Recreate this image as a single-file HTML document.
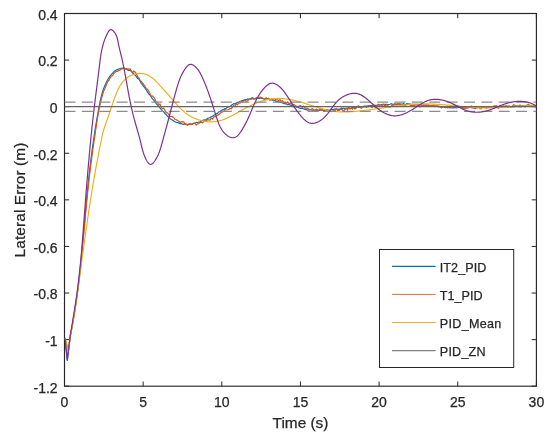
<!DOCTYPE html>
<html><head><meta charset="utf-8"><title>Lateral Error</title>
<style>html,body{margin:0;padding:0;background:#fff}svg{display:block}</style></head>
<body><svg width="550" height="440" viewBox="0 0 550 440">
<rect x="0" y="0" width="550" height="440" fill="#fff"/>
<clipPath id="c"><rect x="64.5" y="13.5" width="471.9" height="372.7"/></clipPath>
<rect x="64.5" y="13.5" width="471.9" height="372.7" fill="none" stroke="#262626" stroke-width="1.15"/>
<path d="M64.50,386.2 v-4.7 M64.50,13.5 v4.7 M143.15,386.2 v-4.7 M143.15,13.5 v4.7 M221.80,386.2 v-4.7 M221.80,13.5 v4.7 M300.45,386.2 v-4.7 M300.45,13.5 v4.7 M379.10,386.2 v-4.7 M379.10,13.5 v4.7 M457.75,386.2 v-4.7 M457.75,13.5 v4.7 M536.40,386.2 v-4.7 M536.40,13.5 v4.7 M64.5,13.50 h4.7 M536.4,13.50 h-4.7 M64.5,60.09 h4.7 M536.4,60.09 h-4.7 M64.5,106.67 h4.7 M536.4,106.67 h-4.7 M64.5,153.26 h4.7 M536.4,153.26 h-4.7 M64.5,199.85 h4.7 M536.4,199.85 h-4.7 M64.5,246.44 h4.7 M536.4,246.44 h-4.7 M64.5,293.03 h4.7 M536.4,293.03 h-4.7 M64.5,339.61 h4.7 M536.4,339.61 h-4.7 M64.5,386.20 h4.7 M536.4,386.20 h-4.7" stroke="#262626" stroke-width="1" fill="none"/>
<g clip-path="url(#c)" fill="none" stroke-linejoin="round" stroke-linecap="butt">
<path d="M65.0,338.2 L67.3,360.0 L69.8,339.4 L69.54,339.41 L69.63,338.96 L69.73,338.51 L69.82,338.06 L69.91,337.61 L70.00,337.16 L70.09,336.71 L70.18,336.26 L70.27,335.81 L70.36,335.36 L70.45,334.92 L70.54,334.47 L70.62,334.02 L70.71,333.57 L70.80,333.12 L70.89,332.67 L70.97,332.22 L71.06,331.77 L71.14,331.32 L71.23,330.87 L71.31,330.42 L71.40,329.97 L71.48,329.52 L71.57,329.07 L71.65,328.62 L71.73,328.17 L71.82,327.72 L71.90,327.28 L71.98,326.83 L72.06,326.38 L72.14,325.93 L72.22,325.48 L72.30,325.03 L72.39,324.58 L72.46,324.13 L72.54,323.68 L72.62,323.23 L72.70,322.78 L72.78,322.33 L72.86,321.88 L72.94,321.43 L73.01,320.98 L73.09,320.53 L73.17,320.08 L73.24,319.63 L73.32,319.18 L73.40,318.73 L73.47,318.28 L73.55,317.83 L73.62,317.38 L73.70,316.93 L73.77,316.48 L73.84,316.03 L73.92,315.58 L73.99,315.12 L74.06,314.67 L74.14,314.22 L74.21,313.77 L74.28,313.32 L74.35,312.87 L74.42,312.42 L74.49,311.97 L74.57,311.52 L74.64,311.07 L74.71,310.62 L74.78,310.17 L74.85,309.72 L74.91,309.27 L74.98,308.82 L75.05,308.37 L75.12,307.92 L75.19,307.47 L75.26,307.01 L75.32,306.56 L75.39,306.11 L75.46,305.66 L75.52,305.21 L75.59,304.76 L75.66,304.31 L75.72,303.86 L75.79,303.41 L75.85,302.96 L75.92,302.51 L75.98,302.05 L76.05,301.60 L76.11,301.15 L76.17,300.70 L76.24,300.25 L76.30,299.80 L76.36,299.35 L76.43,298.90 L76.49,298.45 L76.55,297.99 L76.61,297.54 L76.67,297.09 L76.74,296.64 L76.80,296.19 L76.86,295.74 L76.92,295.29 L76.98,294.84 L77.04,294.38 L77.10,293.93 L77.16,293.48 L77.22,293.03 L77.28,292.58 L77.34,292.13 L77.40,291.68 L77.45,291.22 L77.51,290.77 L77.57,290.32 L77.63,289.87 L77.69,289.42 L77.74,288.97 L77.80,288.51 L77.86,288.06 L77.91,287.61 L77.97,287.16 L78.03,286.71 L78.08,286.26 L78.14,285.80 L78.19,285.35 L78.25,284.90 L78.30,284.45 L78.36,284.00 L78.41,283.55 L78.47,283.09 L78.52,282.64 L78.58,282.19 L78.63,281.74 L78.68,281.29 L78.74,280.83 L78.79,280.38 L78.84,279.93 L78.90,279.48 L78.95,279.03 L79.00,278.57 L79.05,278.12 L79.11,277.67 L79.16,277.22 L79.21,276.77 L79.26,276.31 L79.31,275.86 L79.36,275.41 L79.42,274.96 L79.47,274.50 L79.52,274.05 L79.57,273.60 L79.62,273.15 L79.67,272.70 L79.72,272.24 L79.77,271.79 L79.82,271.34 L79.87,270.89 L79.92,270.43 L79.96,269.98 L80.01,269.53 L80.06,269.08 L80.11,268.62 L80.16,268.17 L80.21,267.72 L80.26,267.27 L80.30,266.81 L80.35,266.36 L80.40,265.91 L80.45,265.46 L80.50,265.00 L80.54,264.55 L80.59,264.10 L80.64,263.65 L80.68,263.19 L80.73,262.74 L80.78,262.29 L80.82,261.84 L80.87,261.38 L80.92,260.93 L80.96,260.48 L81.01,260.03 L81.05,259.57 L81.10,259.12 L81.15,258.67 L81.19,258.21 L81.24,257.76 L81.28,257.31 L81.33,256.86 L81.37,256.40 L81.42,255.95 L81.46,255.50 L81.51,255.04 L81.55,254.59 L81.59,254.14 L81.64,253.69 L81.68,253.23 L81.73,252.78 L81.77,252.33 L81.81,251.87 L81.86,251.42 L81.90,250.97 L81.95,250.52 L81.99,250.06 L82.03,249.61 L82.08,249.16 L82.12,248.70 L82.16,248.25 L82.21,247.80 L82.25,247.34 L82.29,246.89 L82.33,246.44 L82.38,245.98 L82.42,245.53 L82.46,245.08 L82.51,244.63 L82.55,244.17 L82.59,243.72 L82.63,243.27 L82.67,242.81 L82.72,242.36 L82.76,241.91 L82.80,241.45 L82.84,241.00 L82.88,240.55 L82.93,240.09 L82.97,239.64 L83.01,239.19 L83.05,238.73 L83.09,238.28 L83.13,237.83 L83.18,237.37 L83.22,236.92 L83.26,236.47 L83.30,236.01 L83.34,235.56 L83.38,235.11 L83.42,234.65 L83.47,234.20 L83.51,233.75 L83.55,233.29 L83.59,232.84 L83.63,232.39 L83.67,231.93 L83.71,231.48 L83.75,231.03 L83.79,230.57 L83.84,230.12 L83.88,229.66 L83.92,229.21 L83.96,228.76 L84.00,228.30 L84.04,227.85 L84.08,227.40 L84.12,226.94 L84.16,226.49 L84.20,226.04 L84.24,225.58 L84.28,225.13 L84.33,224.68 L84.37,224.22 L84.41,223.77 L84.45,223.31 L84.49,222.86 L84.53,222.41 L84.57,221.95 L84.61,221.50 L84.65,221.05 L84.69,220.59 L84.73,220.14 L84.77,219.69 L84.81,219.23 L84.86,218.78 L84.90,218.32 L84.94,217.87 L84.98,217.42 L85.02,216.96 L85.06,216.51 L85.10,216.06 L85.14,215.60 L85.18,215.15 L85.22,214.69 L85.26,214.24 L85.31,213.79 L85.35,213.33 L85.39,212.88 L85.43,212.43 L85.47,211.97 L85.51,211.52 L85.55,211.06 L85.59,210.61 L85.64,210.16 L85.68,209.70 L85.72,209.25 L85.76,208.79 L85.80,208.34 L85.84,207.89 L85.88,207.43 L85.93,206.98 L85.97,206.53 L86.01,206.07 L86.05,205.62 L86.09,205.16 L86.14,204.71 L86.18,204.26 L86.22,203.80 L86.26,203.35 L86.31,202.89 L86.35,202.44 L86.39,201.99 L86.43,201.53 L86.47,201.08 L86.52,200.63 L86.56,200.17 L86.60,199.72 L86.65,199.26 L86.69,198.81 L86.73,198.36 L86.78,197.90 L86.82,197.45 L86.86,196.99 L86.91,196.54 L86.95,196.09 L86.99,195.63 L87.04,195.18 L87.08,194.72 L87.12,194.27 L87.17,193.82 L87.21,193.36 L87.26,192.91 L87.30,192.45 L87.35,192.00 L87.39,191.55 L87.43,191.09 L87.48,190.64 L87.52,190.18 L87.57,189.73 L87.61,189.28 L87.66,188.82 L87.70,188.37 L87.75,187.91 L87.80,187.46 L87.84,187.01 L87.89,186.55 L87.93,186.10 L87.98,185.64 L88.03,185.19 L88.07,184.74 L88.12,184.28 L88.16,183.83 L88.21,183.37 L88.26,182.92 L88.31,182.47 L88.35,182.01 L88.40,181.56 L88.45,181.10 L88.50,180.65 L88.54,180.20 L88.59,179.74 L88.64,179.29 L88.69,178.83 L88.74,178.38 L88.78,177.93 L88.83,177.47 L88.88,177.02 L88.93,176.56 L88.98,176.11 L89.03,175.66 L89.08,175.20 L89.13,174.75 L89.18,174.29 L89.23,173.84 L89.28,173.39 L89.33,172.93 L89.38,172.48 L89.43,172.02 L89.48,171.57 L89.53,171.12 L89.58,170.66 L89.63,170.21 L89.69,169.75 L89.74,169.30 L89.79,168.85 L89.84,168.39 L89.89,167.94 L89.95,167.48 L90.00,167.03 L90.05,166.58 L90.10,166.12 L90.16,165.67 L90.21,165.21 L90.27,164.76 L90.32,164.31 L90.37,163.85 L90.43,163.40 L90.48,162.94 L90.54,162.49 L90.59,162.04 L90.65,161.58 L90.70,161.13 L90.76,160.67 L90.81,160.22 L90.87,159.77 L90.93,159.31 L90.98,158.86 L91.04,158.40 L91.10,157.95 L91.15,157.50 L91.21,157.04 L91.27,156.59 L91.33,156.13 L91.38,155.68 L91.44,155.23 L91.50,154.77 L91.56,154.32 L91.62,153.87 L91.68,153.41 L91.74,152.96 L91.80,152.50 L91.86,152.05 L91.92,151.60 L91.98,151.14 L92.04,150.69 L92.10,150.23 L92.16,149.78 L92.22,149.33 L92.28,148.87 L92.35,148.42 L92.41,147.97 L92.47,147.51 L92.53,147.06 L92.60,146.60 L92.66,146.15 L92.72,145.70 L92.79,145.24 L92.85,144.79 L92.91,144.34 L92.98,143.88 L93.04,143.43 L93.11,142.98 L93.17,142.52 L93.24,142.07 L93.30,141.62 L93.37,141.16 L93.43,140.71 L93.50,140.26 L93.57,139.81 L93.63,139.35 L93.70,138.90 L93.77,138.45 L93.83,138.00 L93.90,137.54 L93.97,137.09 L94.04,136.64 L94.11,136.19 L94.18,135.74 L94.24,135.28 L94.31,134.83 L94.38,134.38 L94.45,133.93 L94.52,133.48 L94.59,133.03 L94.66,132.58 L94.73,132.13 L94.80,131.67 L94.87,131.22 L94.94,130.77 L95.01,130.32 L95.09,129.87 L95.16,129.42 L95.23,128.97 L95.30,128.52 L95.37,128.07 L95.45,127.62 L95.52,127.18 L95.59,126.73 L95.67,126.28 L95.74,125.83 L95.81,125.38 L95.89,124.93 L95.96,124.48 L96.03,124.04 L96.11,123.59 L96.18,123.14 L96.26,122.69 L96.33,122.25 L96.41,121.80 L96.48,121.35 L96.56,120.90 L96.64,120.46 L96.71,120.01 L96.79,119.57 L96.87,119.12 L96.94,118.67 L97.02,118.23 L97.10,117.78 L97.17,117.34 L97.25,116.90 L97.33,116.45 L97.41,116.01 L97.49,115.56 L97.56,115.12 L97.64,114.68 L97.72,114.23 L97.80,113.79 L97.88,113.35 L97.96,112.90 L98.04,112.46 L98.12,112.02 L98.20,111.58 L98.28,111.14 L98.36,110.70 L98.44,110.26 L98.52,109.81 L98.60,109.37 L98.68,108.93 L98.76,108.50 L98.85,108.06 L98.93,107.62 L99.01,107.18 L99.09,106.74 L99.17,106.30 L99.26,105.86 L99.34,105.43 L99.42,104.99 L99.51,104.55 L99.59,104.11 L99.68,103.68 L99.76,103.24 L99.85,102.80 L99.94,102.37 L100.03,101.93 L101.28,96.42 L102.53,91.94 L103.78,88.14 L105.03,85.20 L106.28,82.45 L107.53,79.93 L108.78,78.02 L110.03,76.16 L111.28,74.55 L112.53,73.11 L113.78,72.07 L115.03,70.69 L116.28,70.03 L117.53,69.27 L118.78,69.08 L120.03,68.55 L121.28,68.25 L122.53,68.06 L123.78,68.32 L125.03,68.65 L126.28,68.95 L127.53,69.93 L128.78,70.47 L130.03,70.31 L131.28,71.20 L132.53,72.68 L133.78,73.69 L135.03,75.08 L136.28,76.41 L137.53,78.39 L138.78,79.02 L140.03,80.91 L141.28,83.38 L142.53,84.81 L143.78,86.70 L145.03,88.23 L146.28,89.76 L147.53,92.12 L148.78,93.86 L150.03,95.18 L151.28,97.01 L152.53,98.83 L153.78,100.16 L155.03,101.96 L156.28,103.55 L157.53,105.02 L158.78,106.33 L160.03,108.11 L161.28,109.62 L162.53,110.85 L163.78,111.90 L165.03,113.74 L166.28,114.70 L167.53,116.39 L168.78,117.00 L170.03,118.71 L171.28,119.43 L172.53,119.97 L173.78,121.03 L175.03,121.82 L176.28,122.45 L177.53,122.55 L178.78,122.91 L180.03,123.62 L181.28,123.67 L182.53,124.07 L183.78,124.36 L185.03,123.71 L186.28,124.31 L187.53,124.58 L188.78,124.05 L190.03,123.79 L191.28,124.11 L192.53,123.77 L193.78,123.73 L195.03,123.09 L196.28,122.45 L197.53,122.52 L198.78,122.04 L200.03,122.00 L201.28,121.38 L202.53,120.35 L203.78,119.97 L205.03,120.05 L206.28,119.41 L207.53,118.41 L208.78,117.98 L210.03,117.46 L211.28,116.79 L212.53,116.22 L213.78,115.33 L215.03,114.51 L216.28,113.73 L217.53,113.39 L218.78,111.74 L220.03,111.57 L221.28,110.89 L222.53,109.72 L223.78,109.53 L225.03,108.52 L226.28,108.27 L227.53,107.29 L228.78,106.85 L230.03,106.35 L231.28,105.46 L232.53,104.45 L233.78,103.66 L235.03,104.06 L236.28,102.94 L237.53,102.23 L238.78,101.97 L240.03,101.39 L241.28,101.25 L242.53,100.59 L243.78,100.19 L245.03,99.61 L246.28,99.65 L247.53,98.91 L248.78,99.17 L250.03,99.21 L251.28,98.12 L252.53,97.84 L253.78,98.53 L255.03,98.88 L256.28,97.95 L257.53,97.87 L258.78,98.46 L260.03,98.09 L261.28,98.28 L262.53,98.44 L263.78,98.85 L265.03,98.73 L266.28,99.12 L267.53,99.19 L268.78,99.22 L270.03,99.62 L271.28,99.69 L272.53,100.26 L273.78,100.22 L275.03,100.54 L276.28,101.62 L277.53,101.50 L278.78,101.85 L280.03,102.37 L281.28,102.46 L282.53,102.88 L283.78,103.45 L285.03,103.79 L286.28,103.74 L287.53,104.72 L288.78,104.68 L290.03,104.92 L291.28,105.35 L292.53,105.87 L293.78,106.85 L295.03,106.37 L296.28,107.12 L297.53,106.81 L298.78,107.73 L300.03,108.32 L301.28,108.27 L302.53,108.44 L303.78,108.96 L305.03,109.34 L306.28,109.55 L307.53,110.14 L308.78,109.79 L310.03,109.70 L311.28,109.96 L312.53,110.08 L313.78,110.22 L315.03,110.24 L316.28,110.34 L317.53,109.81 L318.78,110.57 L320.03,110.14 L321.28,109.94 L322.53,110.45 L323.78,110.61 L325.03,110.30 L326.28,110.13 L327.53,109.72 L328.78,110.51 L330.03,110.08 L331.28,109.38 L332.53,109.38 L333.78,109.53 L335.03,108.92 L336.28,109.32 L337.53,109.02 L338.78,109.40 L340.03,109.20 L341.28,108.18 L342.53,108.67 L343.78,108.04 L345.03,108.73 L346.28,108.32 L347.53,108.30 L348.78,107.68 L350.03,108.42 L351.28,108.33 L352.53,107.28 L353.78,107.58 L355.03,107.13 L356.28,107.19 L357.53,106.68 L358.78,107.49 L360.03,106.50 L361.28,106.57 L362.53,106.68 L363.78,106.21 L365.03,106.20 L366.28,105.98 L367.53,105.99 L368.78,105.55 L370.03,105.65 L371.28,105.60 L372.53,105.45 L373.78,105.46 L375.03,105.24 L376.28,105.45 L377.53,105.03 L378.78,104.98 L380.03,104.73 L381.28,104.68 L382.53,104.37 L383.78,104.82 L385.03,104.25 L386.28,104.29 L387.53,104.56 L388.78,104.51 L390.03,104.21 L391.28,103.67 L392.53,104.35 L393.78,104.26 L395.03,103.73 L396.28,104.35 L397.53,103.89 L398.78,103.74 L400.03,104.10 L401.28,104.02 L402.53,104.13 L403.78,103.60 L405.03,104.65 L406.28,103.95 L407.53,103.70 L408.78,104.39 L410.03,104.15 L411.28,104.41 L412.53,104.28 L413.78,104.44 L415.03,104.61 L416.28,104.40 L417.53,104.93 L418.78,104.69 L420.03,104.67 L421.28,105.07 L422.53,105.30 L423.78,105.22 L425.03,105.15 L426.28,105.72 L427.53,105.13 L428.78,105.48 L430.03,105.93 L431.28,105.64 L432.53,106.19 L433.78,106.29 L435.03,106.70 L436.28,106.28 L437.53,106.48 L438.78,106.89 L440.03,106.30 L441.28,107.61 L442.53,106.90 L443.78,106.98 L445.03,107.55 L446.28,107.36 L447.53,106.91 L448.78,107.70 L450.03,107.82 L451.28,107.47 L452.53,107.56 L453.78,107.82 L455.03,107.42 L456.28,107.83 L457.53,107.77 L458.78,107.50 L460.03,107.28 L461.28,107.61 L462.53,107.40 L463.78,107.94 L465.03,107.65 L466.28,107.81 L467.53,107.58 L468.78,107.58 L470.03,107.23 L471.28,107.62 L472.53,107.91 L473.78,107.24 L475.03,107.11 L476.28,107.20 L477.53,107.06 L478.78,106.95 L480.03,107.17 L481.28,107.00 L482.53,107.48 L483.78,107.02 L485.03,107.09 L486.28,107.25 L487.53,106.85 L488.78,107.34 L490.03,106.70 L491.28,106.62 L492.53,106.74 L493.78,106.79 L495.03,106.39 L496.28,106.78 L497.53,106.27 L498.78,107.17 L500.03,106.72 L501.28,106.53 L502.53,106.44 L503.78,106.58 L505.03,106.61 L506.28,106.35 L507.53,106.37 L508.78,106.57 L510.03,106.46 L511.28,106.88 L512.53,106.92 L513.78,106.56 L515.03,106.67 L516.28,106.11 L517.53,106.68 L518.78,106.45 L520.03,106.58 L521.28,106.88 L522.53,105.77 L523.78,106.42 L525.03,105.97 L526.28,106.44 L527.53,105.83 L528.78,106.03 L530.03,106.19 L531.28,106.27 L532.53,106.05 L533.78,105.74 L535.03,105.75 L536.28,106.12" stroke="#0072BD" stroke-width="1.2"/>
<path d="M65.0,338.0 L68.4,351 L69.9,339.4 L69.49,339.40 L69.59,338.95 L69.68,338.50 L69.78,338.06 L69.88,337.61 L69.97,337.16 L70.07,336.72 L70.16,336.27 L70.26,335.82 L70.35,335.37 L70.44,334.93 L70.53,334.48 L70.63,334.03 L70.72,333.58 L70.81,333.14 L70.90,332.69 L70.99,332.24 L71.08,331.79 L71.17,331.35 L71.26,330.90 L71.35,330.45 L71.44,330.00 L71.53,329.56 L71.61,329.11 L71.70,328.66 L71.79,328.21 L71.87,327.77 L71.96,327.32 L72.05,326.87 L72.13,326.42 L72.21,325.97 L72.30,325.53 L72.38,325.08 L72.47,324.63 L72.55,324.18 L72.63,323.73 L72.72,323.29 L72.80,322.84 L72.88,322.39 L72.96,321.94 L73.04,321.49 L73.12,321.05 L73.20,320.60 L73.28,320.15 L73.36,319.70 L73.44,319.25 L73.52,318.80 L73.60,318.36 L73.67,317.91 L73.75,317.46 L73.83,317.01 L73.90,316.56 L73.98,316.11 L74.06,315.67 L74.13,315.22 L74.21,314.77 L74.28,314.32 L74.36,313.87 L74.43,313.42 L74.51,312.97 L74.58,312.53 L74.65,312.08 L74.73,311.63 L74.80,311.18 L74.87,310.73 L74.94,310.28 L75.01,309.83 L75.08,309.38 L75.16,308.94 L75.23,308.49 L75.30,308.04 L75.37,307.59 L75.44,307.14 L75.50,306.69 L75.57,306.24 L75.64,305.79 L75.71,305.34 L75.78,304.89 L75.85,304.45 L75.91,304.00 L75.98,303.55 L76.05,303.10 L76.11,302.65 L76.18,302.20 L76.25,301.75 L76.31,301.30 L76.38,300.85 L76.44,300.40 L76.51,299.95 L76.57,299.50 L76.63,299.05 L76.70,298.61 L76.76,298.16 L76.82,297.71 L76.89,297.26 L76.95,296.81 L77.01,296.36 L77.07,295.91 L77.14,295.46 L77.20,295.01 L77.26,294.56 L77.32,294.11 L77.38,293.66 L77.44,293.21 L77.50,292.76 L77.56,292.31 L77.62,291.86 L77.68,291.41 L77.74,290.96 L77.80,290.51 L77.86,290.06 L77.91,289.61 L77.97,289.16 L78.03,288.71 L78.09,288.26 L78.14,287.81 L78.20,287.36 L78.26,286.91 L78.32,286.46 L78.37,286.01 L78.43,285.56 L78.48,285.11 L78.54,284.66 L78.59,284.21 L78.65,283.76 L78.71,283.31 L78.76,282.86 L78.81,282.41 L78.87,281.96 L78.92,281.51 L78.98,281.06 L79.03,280.61 L79.08,280.16 L79.14,279.71 L79.19,279.26 L79.24,278.81 L79.30,278.36 L79.35,277.91 L79.40,277.46 L79.45,277.01 L79.50,276.56 L79.56,276.11 L79.61,275.66 L79.66,275.20 L79.71,274.75 L79.76,274.30 L79.81,273.85 L79.86,273.40 L79.91,272.95 L79.96,272.50 L80.01,272.05 L80.06,271.60 L80.11,271.15 L80.16,270.70 L80.21,270.25 L80.26,269.80 L80.31,269.35 L80.35,268.90 L80.40,268.44 L80.45,267.99 L80.50,267.54 L80.55,267.09 L80.60,266.64 L80.64,266.19 L80.69,265.74 L80.74,265.29 L80.79,264.84 L80.83,264.39 L80.88,263.93 L80.93,263.48 L80.97,263.03 L81.02,262.58 L81.07,262.13 L81.11,261.68 L81.16,261.23 L81.20,260.78 L81.25,260.33 L81.30,259.87 L81.34,259.42 L81.39,258.97 L81.43,258.52 L81.48,258.07 L81.52,257.62 L81.57,257.17 L81.61,256.72 L81.66,256.26 L81.70,255.81 L81.75,255.36 L81.79,254.91 L81.83,254.46 L81.88,254.01 L81.92,253.56 L81.97,253.10 L82.01,252.65 L82.05,252.20 L82.10,251.75 L82.14,251.30 L82.18,250.85 L82.23,250.40 L82.27,249.94 L82.31,249.49 L82.36,249.04 L82.40,248.59 L82.44,248.14 L82.49,247.69 L82.53,247.23 L82.57,246.78 L82.61,246.33 L82.66,245.88 L82.70,245.43 L82.74,244.98 L82.78,244.52 L82.82,244.07 L82.87,243.62 L82.91,243.17 L82.95,242.72 L82.99,242.26 L83.03,241.81 L83.08,241.36 L83.12,240.91 L83.16,240.46 L83.20,240.01 L83.24,239.55 L83.29,239.10 L83.33,238.65 L83.37,238.20 L83.41,237.75 L83.45,237.29 L83.49,236.84 L83.53,236.39 L83.57,235.94 L83.62,235.49 L83.66,235.03 L83.70,234.58 L83.74,234.13 L83.78,233.68 L83.82,233.22 L83.86,232.77 L83.90,232.32 L83.95,231.87 L83.99,231.42 L84.03,230.96 L84.07,230.51 L84.11,230.06 L84.15,229.61 L84.19,229.16 L84.23,228.70 L84.27,228.25 L84.31,227.80 L84.36,227.35 L84.40,226.89 L84.44,226.44 L84.48,225.99 L84.52,225.54 L84.56,225.08 L84.60,224.63 L84.64,224.18 L84.68,223.73 L84.72,223.27 L84.77,222.82 L84.81,222.37 L84.85,221.92 L84.89,221.46 L84.93,221.01 L84.97,220.56 L85.01,220.11 L85.05,219.65 L85.09,219.20 L85.14,218.75 L85.18,218.30 L85.22,217.84 L85.26,217.39 L85.30,216.94 L85.34,216.49 L85.38,216.03 L85.43,215.58 L85.47,215.13 L85.51,214.68 L85.55,214.22 L85.59,213.77 L85.63,213.32 L85.68,212.87 L85.72,212.41 L85.76,211.96 L85.80,211.51 L85.85,211.05 L85.89,210.60 L85.93,210.15 L85.97,209.70 L86.01,209.24 L86.06,208.79 L86.10,208.34 L86.14,207.89 L86.19,207.43 L86.23,206.98 L86.27,206.53 L86.31,206.07 L86.36,205.62 L86.40,205.17 L86.44,204.72 L86.49,204.26 L86.53,203.81 L86.57,203.36 L86.62,202.90 L86.66,202.45 L86.71,202.00 L86.75,201.54 L86.79,201.09 L86.84,200.64 L86.88,200.19 L86.93,199.73 L86.97,199.28 L87.02,198.83 L87.06,198.37 L87.11,197.92 L87.15,197.47 L87.20,197.01 L87.24,196.56 L87.29,196.11 L87.33,195.66 L87.38,195.20 L87.42,194.75 L87.47,194.30 L87.51,193.84 L87.56,193.39 L87.61,192.94 L87.65,192.48 L87.70,192.03 L87.75,191.58 L87.79,191.12 L87.84,190.67 L87.89,190.22 L87.94,189.76 L87.98,189.31 L88.03,188.86 L88.08,188.41 L88.13,187.95 L88.17,187.50 L88.22,187.05 L88.27,186.59 L88.32,186.14 L88.37,185.69 L88.42,185.23 L88.47,184.78 L88.52,184.33 L88.57,183.87 L88.61,183.42 L88.66,182.97 L88.71,182.51 L88.76,182.06 L88.82,181.61 L88.87,181.15 L88.92,180.70 L88.97,180.25 L89.02,179.79 L89.07,179.34 L89.12,178.89 L89.17,178.43 L89.23,177.98 L89.28,177.53 L89.33,177.07 L89.38,176.62 L89.43,176.17 L89.49,175.71 L89.54,175.26 L89.59,174.81 L89.65,174.35 L89.70,173.90 L89.76,173.45 L89.81,172.99 L89.86,172.54 L89.92,172.09 L89.97,171.63 L90.03,171.18 L90.08,170.73 L90.14,170.27 L90.19,169.82 L90.25,169.37 L90.31,168.91 L90.36,168.46 L90.42,168.01 L90.48,167.55 L90.53,167.10 L90.59,166.65 L90.65,166.19 L90.70,165.74 L90.76,165.29 L90.82,164.83 L90.88,164.38 L90.93,163.93 L90.99,163.48 L91.05,163.02 L91.11,162.57 L91.17,162.12 L91.23,161.66 L91.29,161.21 L91.34,160.76 L91.40,160.31 L91.46,159.85 L91.52,159.40 L91.58,158.95 L91.64,158.50 L91.70,158.04 L91.76,157.59 L91.82,157.14 L91.88,156.69 L91.94,156.24 L92.00,155.79 L92.07,155.33 L92.13,154.88 L92.19,154.43 L92.25,153.98 L92.31,153.53 L92.37,153.08 L92.43,152.63 L92.50,152.17 L92.56,151.72 L92.62,151.27 L92.68,150.82 L92.75,150.37 L92.81,149.92 L92.87,149.47 L92.93,149.02 L93.00,148.57 L93.06,148.12 L93.12,147.67 L93.19,147.22 L93.25,146.77 L93.31,146.32 L93.38,145.87 L93.44,145.42 L93.50,144.97 L93.57,144.52 L93.63,144.07 L93.70,143.62 L93.76,143.18 L93.82,142.73 L93.89,142.28 L93.95,141.83 L94.02,141.38 L94.08,140.93 L94.15,140.49 L94.21,140.04 L94.28,139.59 L94.34,139.14 L94.41,138.70 L94.47,138.25 L94.54,137.80 L94.60,137.35 L94.67,136.91 L94.74,136.46 L94.80,136.02 L94.87,135.57 L94.93,135.12 L95.00,134.68 L95.06,134.23 L95.13,133.79 L95.20,133.34 L95.26,132.90 L95.33,132.45 L95.39,132.01 L95.46,131.56 L95.53,131.12 L95.59,130.67 L95.66,130.23 L95.73,129.79 L95.79,129.34 L95.86,128.90 L95.93,128.46 L95.99,128.01 L96.06,127.57 L96.13,127.13 L96.19,126.69 L96.26,126.24 L96.33,125.80 L96.40,125.36 L96.46,124.92 L96.53,124.48 L96.60,124.04 L96.66,123.59 L96.73,123.15 L96.80,122.71 L96.87,122.27 L96.93,121.83 L97.00,121.39 L97.07,120.95 L97.14,120.51 L97.21,120.08 L97.27,119.64 L97.34,119.20 L97.41,118.76 L97.48,118.32 L97.55,117.88 L97.62,117.44 L97.69,117.00 L97.77,116.56 L97.84,116.12 L97.91,115.68 L97.98,115.25 L98.06,114.81 L98.13,114.37 L98.21,113.93 L98.28,113.49 L98.36,113.05 L98.44,112.61 L98.52,112.17 L98.60,111.73 L98.68,111.29 L98.76,110.85 L98.84,110.41 L98.92,109.97 L99.01,109.52 L99.09,109.08 L99.18,108.64 L99.27,108.20 L99.36,107.76 L99.45,107.31 L99.54,106.87 L99.63,106.43 L99.72,105.98 L99.82,105.54 L99.92,105.09 L100.01,104.65 L101.26,99.41 L102.51,94.91 L103.76,90.67 L105.01,88.19 L106.26,85.18 L107.51,82.14 L108.76,80.43 L110.01,78.31 L111.26,76.16 L112.51,75.69 L113.76,73.54 L115.01,72.42 L116.26,71.11 L117.51,71.30 L118.76,70.18 L120.01,70.13 L121.26,68.75 L122.51,68.98 L123.76,67.91 L125.01,69.17 L126.26,68.66 L127.51,68.94 L128.76,69.36 L130.01,68.79 L131.26,70.97 L132.51,72.85 L133.76,70.97 L135.01,72.05 L136.26,73.50 L137.51,76.76 L138.76,77.68 L140.01,80.05 L141.26,81.46 L142.51,82.82 L143.76,84.70 L145.01,86.17 L146.26,88.82 L147.51,88.99 L148.76,91.30 L150.01,93.52 L151.26,96.42 L152.51,95.98 L153.76,97.29 L155.01,99.23 L156.26,101.94 L157.51,102.42 L158.76,105.07 L160.01,103.88 L161.26,107.61 L162.51,108.82 L163.76,108.12 L165.01,110.60 L166.26,112.64 L167.51,112.89 L168.76,114.75 L170.01,116.64 L171.26,116.32 L172.51,116.90 L173.76,117.48 L175.01,119.52 L176.26,119.70 L177.51,120.49 L178.76,121.26 L180.01,122.50 L181.26,121.69 L182.51,121.79 L183.76,121.81 L185.01,124.68 L186.26,124.02 L187.51,125.33 L188.76,124.21 L190.01,123.67 L191.26,124.63 L192.51,124.12 L193.76,123.07 L195.01,123.21 L196.26,125.14 L197.51,123.78 L198.76,123.55 L200.01,122.69 L201.26,122.01 L202.51,122.90 L203.76,121.68 L205.01,120.71 L206.26,120.72 L207.51,119.59 L208.76,119.93 L210.01,120.11 L211.26,117.94 L212.51,119.13 L213.76,116.81 L215.01,116.80 L216.26,115.33 L217.51,115.13 L218.76,114.63 L220.01,113.53 L221.26,112.59 L222.51,111.87 L223.76,111.02 L225.01,109.68 L226.26,109.99 L227.51,109.79 L228.76,109.47 L230.01,108.54 L231.26,108.92 L232.51,106.88 L233.76,105.58 L235.01,106.78 L236.26,103.80 L237.51,104.79 L238.76,102.65 L240.01,103.13 L241.26,100.72 L242.51,102.50 L243.76,101.17 L245.01,100.07 L246.26,101.76 L247.51,100.65 L248.76,99.72 L250.01,98.77 L251.26,99.06 L252.51,98.72 L253.76,99.23 L255.01,99.12 L256.26,97.81 L257.51,97.80 L258.76,97.74 L260.01,97.04 L261.26,97.63 L262.51,98.04 L263.76,98.70 L265.01,99.27 L266.26,97.65 L267.51,98.85 L268.76,98.19 L270.01,100.30 L271.26,98.85 L272.51,99.49 L273.76,98.56 L275.01,98.91 L276.26,99.98 L277.51,99.80 L278.76,100.69 L280.01,99.47 L281.26,101.58 L282.51,100.68 L283.76,103.14 L285.01,101.89 L286.26,103.38 L287.51,101.77 L288.76,103.61 L290.01,102.95 L291.26,103.66 L292.51,104.46 L293.76,104.58 L295.01,105.43 L296.26,106.19 L297.51,106.49 L298.76,106.25 L300.01,105.58 L301.26,106.37 L302.51,107.18 L303.76,106.05 L305.01,108.54 L306.26,108.03 L307.51,108.28 L308.76,109.48 L310.01,109.49 L311.26,109.35 L312.51,108.57 L313.76,109.81 L315.01,110.00 L316.26,109.17 L317.51,110.85 L318.76,110.55 L320.01,108.67 L321.26,110.44 L322.51,109.40 L323.76,111.39 L325.01,111.16 L326.26,109.66 L327.51,109.85 L328.76,110.63 L330.01,110.34 L331.26,111.71 L332.51,111.03 L333.76,110.15 L335.01,110.75 L336.26,108.60 L337.51,110.35 L338.76,110.68 L340.01,109.72 L341.26,109.17 L342.51,110.05 L343.76,111.02 L345.01,109.46 L346.26,108.25 L347.51,110.14 L348.76,107.32 L350.01,109.06 L351.26,108.02 L352.51,109.07 L353.76,107.48 L355.01,109.05 L356.26,108.07 L357.51,106.29 L358.76,105.94 L360.01,107.11 L361.26,108.26 L362.51,107.19 L363.76,107.00 L365.01,106.63 L366.26,107.29 L367.51,106.89 L368.76,106.70 L370.01,105.58 L371.26,107.21 L372.51,107.26 L373.76,105.03 L375.01,107.59 L376.26,106.48 L377.51,105.44 L378.76,104.23 L380.01,106.21 L381.26,106.07 L382.51,105.08 L383.76,104.07 L385.01,106.36 L386.26,104.94 L387.51,104.99 L388.76,106.93 L390.01,106.90 L391.26,106.03 L392.51,104.88 L393.76,105.74 L395.01,103.61 L396.26,105.28 L397.51,104.58 L398.76,104.15 L400.01,103.91 L401.26,105.60 L402.51,105.26 L403.76,105.32 L405.01,105.88 L406.26,104.55 L407.51,104.25 L408.76,103.84 L410.01,105.02 L411.26,105.93 L412.51,105.23 L413.76,105.90 L415.01,104.48 L416.26,105.09 L417.51,104.89 L418.76,104.55 L420.01,107.08 L421.26,106.33 L422.51,105.08 L423.76,105.13 L425.01,105.75 L426.26,104.70 L427.51,106.26 L428.76,104.93 L430.01,105.73 L431.26,105.26 L432.51,105.76 L433.76,105.13 L435.01,105.00 L436.26,105.55 L437.51,105.84 L438.76,106.20 L440.01,106.55 L441.26,107.78 L442.51,107.27 L443.76,106.47 L445.01,107.32 L446.26,106.24 L447.51,108.01 L448.76,107.34 L450.01,105.87 L451.26,107.61 L452.51,107.71 L453.76,105.51 L455.01,106.56 L456.26,106.82 L457.51,105.70 L458.76,106.43 L460.01,106.57 L461.26,107.77 L462.51,107.63 L463.76,109.02 L465.01,107.14 L466.26,108.40 L467.51,107.56 L468.76,107.73 L470.01,106.60 L471.26,106.01 L472.51,106.94 L473.76,108.16 L475.01,108.82 L476.26,108.03 L477.51,107.94 L478.76,106.86 L480.01,108.74 L481.26,108.56 L482.51,107.03 L483.76,107.39 L485.01,106.60 L486.26,108.53 L487.51,107.64 L488.76,107.19 L490.01,107.54 L491.26,107.52 L492.51,106.78 L493.76,106.06 L495.01,105.97 L496.26,105.55 L497.51,107.25 L498.76,108.42 L500.01,105.39 L501.26,106.80 L502.51,106.95 L503.76,105.77 L505.01,106.66 L506.26,105.55 L507.51,107.33 L508.76,105.83 L510.01,106.32 L511.26,106.73 L512.51,105.78 L513.76,104.63 L515.01,105.59 L516.26,106.57 L517.51,105.84 L518.76,106.05 L520.01,104.95 L521.26,105.89 L522.51,106.32 L523.76,105.73 L525.01,107.20 L526.26,105.48 L527.51,104.80 L528.76,104.32 L530.01,106.52 L531.26,105.55 L532.51,106.41 L533.76,105.97 L535.01,106.91 L536.26,106.64" stroke="#D95319" stroke-width="1.2"/>
<path d="M65.0,338.0 L68.4,351 L69.9,339.4 L69.65,339.38 L69.74,338.94 L69.83,338.51 L69.92,338.08 L70.01,337.65 L70.10,337.21 L70.19,336.78 L70.27,336.35 L70.36,335.91 L70.45,335.48 L70.54,335.05 L70.62,334.61 L70.71,334.18 L70.79,333.75 L70.88,333.31 L70.96,332.88 L71.05,332.44 L71.13,332.01 L71.21,331.58 L71.30,331.14 L71.38,330.71 L71.46,330.28 L71.54,329.84 L71.62,329.41 L71.70,328.97 L71.79,328.54 L71.87,328.10 L71.95,327.67 L72.03,327.24 L72.10,326.80 L72.18,326.37 L72.26,325.93 L72.34,325.50 L72.42,325.06 L72.50,324.63 L72.57,324.20 L72.65,323.76 L72.73,323.33 L72.80,322.89 L72.88,322.46 L72.96,322.02 L73.03,321.59 L73.11,321.15 L73.18,320.72 L73.26,320.28 L73.33,319.85 L73.40,319.41 L73.48,318.98 L73.55,318.54 L73.62,318.11 L73.70,317.67 L73.77,317.24 L73.84,316.80 L73.91,316.37 L73.98,315.93 L74.06,315.49 L74.13,315.06 L74.20,314.62 L74.27,314.19 L74.34,313.75 L74.41,313.32 L74.48,312.88 L74.55,312.45 L74.62,312.01 L74.69,311.57 L74.76,311.14 L74.82,310.70 L74.89,310.27 L74.96,309.83 L75.03,309.39 L75.10,308.96 L75.16,308.52 L75.23,308.09 L75.30,307.65 L75.36,307.21 L75.43,306.78 L75.50,306.34 L75.56,305.91 L75.63,305.47 L75.70,305.03 L75.76,304.60 L75.83,304.16 L75.89,303.73 L75.96,303.29 L76.02,302.85 L76.09,302.42 L76.15,301.98 L76.21,301.54 L76.28,301.11 L76.34,300.67 L76.41,300.23 L76.47,299.80 L76.53,299.36 L76.60,298.92 L76.66,298.49 L76.72,298.05 L76.79,297.61 L76.85,297.18 L76.91,296.74 L76.97,296.30 L77.04,295.87 L77.10,295.43 L77.16,294.99 L77.22,294.56 L77.28,294.12 L77.34,293.68 L77.41,293.25 L77.47,292.81 L77.53,292.37 L77.59,291.94 L77.65,291.50 L77.71,291.06 L77.77,290.63 L77.83,290.19 L77.89,289.75 L77.95,289.31 L78.01,288.88 L78.07,288.44 L78.13,288.00 L78.19,287.57 L78.25,287.13 L78.31,286.69 L78.37,286.26 L78.43,285.82 L78.49,285.38 L78.55,284.94 L78.61,284.51 L78.67,284.07 L78.73,283.63 L78.79,283.20 L78.85,282.76 L78.91,282.32 L78.97,281.88 L79.03,281.45 L79.09,281.01 L79.14,280.57 L79.20,280.14 L79.26,279.70 L79.32,279.26 L79.38,278.82 L79.44,278.39 L79.50,277.95 L79.56,277.51 L79.62,277.07 L79.67,276.64 L79.73,276.20 L79.79,275.76 L79.85,275.33 L79.91,274.89 L79.97,274.45 L80.03,274.01 L80.09,273.58 L80.14,273.14 L80.20,272.70 L80.26,272.26 L80.32,271.83 L80.38,271.39 L80.44,270.95 L80.50,270.51 L80.56,270.08 L80.61,269.64 L80.67,269.20 L80.73,268.77 L80.79,268.33 L80.85,267.89 L80.91,267.45 L80.97,267.02 L81.03,266.58 L81.08,266.14 L81.14,265.70 L81.20,265.27 L81.26,264.83 L81.32,264.39 L81.38,263.95 L81.44,263.52 L81.50,263.08 L81.56,262.64 L81.61,262.21 L81.67,261.77 L81.73,261.33 L81.79,260.89 L81.85,260.46 L81.91,260.02 L81.97,259.58 L82.03,259.14 L82.09,258.71 L82.14,258.27 L82.20,257.83 L82.26,257.39 L82.32,256.96 L82.38,256.52 L82.44,256.08 L82.50,255.65 L82.56,255.21 L82.62,254.77 L82.68,254.33 L82.74,253.90 L82.80,253.46 L82.86,253.02 L82.92,252.58 L82.97,252.15 L83.03,251.71 L83.09,251.27 L83.15,250.83 L83.21,250.40 L83.27,249.96 L83.33,249.52 L83.39,249.09 L83.45,248.65 L83.51,248.21 L83.57,247.77 L83.63,247.34 L83.69,246.90 L83.75,246.46 L83.81,246.02 L83.87,245.59 L83.93,245.15 L83.99,244.71 L84.05,244.28 L84.11,243.84 L84.17,243.40 L84.23,242.96 L84.29,242.53 L84.35,242.09 L84.41,241.65 L84.47,241.22 L84.53,240.78 L84.60,240.34 L84.66,239.90 L84.72,239.47 L84.78,239.03 L84.84,238.59 L84.90,238.15 L84.96,237.72 L85.02,237.28 L85.08,236.84 L85.14,236.41 L85.20,235.97 L85.27,235.53 L85.33,235.10 L85.39,234.66 L85.45,234.22 L85.51,233.78 L85.57,233.35 L85.63,232.91 L85.70,232.47 L85.76,232.04 L85.82,231.60 L85.88,231.16 L85.94,230.72 L86.00,230.29 L86.07,229.85 L86.13,229.41 L86.19,228.98 L86.25,228.54 L86.32,228.10 L86.38,227.67 L86.44,227.23 L86.50,226.79 L86.57,226.36 L86.63,225.92 L86.69,225.48 L86.75,225.04 L86.82,224.61 L86.88,224.17 L86.94,223.73 L87.01,223.30 L87.07,222.86 L87.13,222.42 L87.20,221.99 L87.26,221.55 L87.32,221.11 L87.39,220.68 L87.45,220.24 L87.51,219.80 L87.58,219.37 L87.64,218.93 L87.71,218.49 L87.77,218.06 L87.83,217.62 L87.90,217.18 L87.96,216.75 L88.03,216.31 L88.09,215.87 L88.16,215.44 L88.22,215.00 L88.29,214.56 L88.35,214.13 L88.42,213.69 L88.48,213.25 L88.55,212.82 L88.61,212.38 L88.68,211.94 L88.74,211.51 L88.81,211.07 L88.87,210.63 L88.94,210.20 L89.01,209.76 L89.07,209.33 L89.14,208.89 L89.20,208.45 L89.27,208.02 L89.34,207.58 L89.40,207.14 L89.47,206.71 L89.54,206.27 L89.60,205.83 L89.67,205.40 L89.74,204.96 L89.81,204.53 L89.87,204.09 L89.94,203.65 L90.01,203.22 L90.08,202.78 L90.14,202.35 L90.21,201.91 L90.28,201.47 L90.35,201.04 L90.42,200.60 L90.48,200.16 L90.55,199.73 L90.62,199.29 L90.69,198.86 L90.76,198.42 L90.83,197.98 L90.90,197.55 L90.97,197.11 L91.04,196.68 L91.10,196.24 L91.17,195.81 L91.24,195.37 L91.31,194.93 L91.38,194.50 L91.45,194.06 L91.52,193.63 L91.59,193.19 L91.66,192.76 L91.74,192.32 L91.81,191.88 L91.88,191.45 L91.95,191.01 L92.02,190.58 L92.09,190.14 L92.16,189.71 L92.23,189.27 L92.30,188.83 L92.38,188.40 L92.45,187.96 L92.52,187.53 L92.59,187.09 L92.66,186.66 L92.74,186.22 L92.81,185.79 L92.88,185.35 L92.96,184.92 L93.03,184.48 L93.10,184.05 L93.17,183.61 L93.25,183.18 L93.32,182.74 L93.40,182.30 L93.47,181.87 L93.54,181.43 L93.62,181.00 L93.69,180.56 L93.77,180.13 L93.84,179.69 L93.92,179.26 L93.99,178.82 L94.07,178.39 L94.14,177.95 L94.22,177.52 L94.29,177.08 L94.37,176.65 L94.44,176.21 L94.52,175.78 L94.60,175.35 L94.67,174.91 L94.75,174.48 L94.82,174.04 L94.90,173.61 L94.98,173.17 L95.06,172.74 L95.13,172.30 L95.21,171.87 L95.29,171.43 L95.37,171.00 L95.44,170.56 L95.52,170.13 L95.60,169.70 L95.68,169.26 L95.76,168.83 L95.84,168.39 L95.91,167.96 L95.99,167.52 L96.07,167.09 L96.15,166.66 L96.23,166.22 L96.31,165.79 L96.39,165.35 L96.47,164.92 L96.55,164.48 L96.63,164.05 L96.71,163.62 L96.79,163.18 L96.88,162.75 L96.96,162.31 L97.04,161.88 L97.12,161.45 L97.20,161.01 L97.28,160.58 L97.36,160.14 L97.45,159.71 L97.53,159.28 L97.61,158.84 L97.69,158.41 L97.78,157.98 L97.86,157.54 L97.94,157.11 L98.03,156.68 L98.11,156.24 L98.19,155.81 L98.28,155.37 L98.36,154.94 L98.44,154.51 L98.53,154.07 L98.61,153.64 L98.69,153.21 L98.78,152.77 L98.86,152.34 L98.95,151.91 L99.03,151.47 L99.12,151.04 L99.20,150.61 L99.28,150.17 L99.37,149.74 L99.45,149.31 L99.54,148.87 L99.62,148.44 L99.71,148.01 L99.79,147.58 L99.88,147.14 L99.96,146.71 L100.05,146.28 L100.14,145.84 L100.22,145.41 L100.31,144.98 L100.39,144.54 L100.48,144.11 L100.56,143.68 L100.65,143.25 L100.73,142.81 L100.82,142.38 L100.91,141.95 L100.99,141.51 L101.08,141.08 L101.16,140.65 L101.25,140.22 L101.33,139.78 L101.42,139.35 L101.51,138.92 L101.59,138.48 L101.68,138.05 L101.77,137.62 L101.86,137.19 L101.95,136.76 L102.04,136.32 L102.13,135.89 L102.23,135.46 L102.32,135.03 L102.42,134.60 L102.52,134.17 L102.62,133.74 L102.73,133.32 L102.84,132.89 L102.95,132.46 L103.06,132.04 L103.18,131.61 L103.30,131.19 L103.42,130.76 L103.55,130.34 L103.68,129.92 L103.81,129.49 L103.94,129.07 L104.08,128.65 L104.22,128.23 L104.36,127.81 L104.50,127.39 L104.64,126.97 L104.78,126.55 L104.93,126.14 L105.08,125.72 L105.22,125.30 L105.37,124.88 L105.52,124.47 L105.67,124.05 L105.81,123.63 L105.96,123.22 L106.11,122.80 L106.26,122.38 L106.40,121.97 L106.55,121.55 L106.69,121.14 L106.84,120.72 L106.98,120.30 L107.13,119.89 L107.27,119.47 L107.41,119.06 L107.56,118.64 L107.70,118.22 L107.84,117.81 L107.98,117.39 L108.12,116.98 L108.26,116.56 L108.41,116.14 L108.55,115.73 L108.69,115.31 L108.83,114.89 L108.97,114.48 L109.11,114.06 L109.25,113.64 L109.39,113.23 L109.53,112.81 L109.67,112.39 L109.81,111.98 L109.95,111.56 L110.09,111.14 L110.23,110.72 L110.37,110.31 L110.51,109.89 L110.65,109.47 L110.79,109.05 L110.94,108.63 L111.08,108.22 L111.22,107.80 L111.36,107.38 L111.50,106.96 L111.65,106.54 L111.79,106.12 L111.93,105.70 L112.07,105.28 L112.22,104.86 L112.36,104.44 L112.51,104.02 L112.65,103.59 L112.80,103.17 L112.94,102.75 L113.09,102.33 L113.24,101.90 L113.39,101.48 L113.53,101.06 L113.68,100.63 L113.83,100.21 L113.98,99.78 L114.13,99.36 L114.28,98.93 L114.44,98.51 L114.59,98.08 L114.74,97.66 L114.90,97.23 L115.05,96.80 L115.21,96.38 L115.37,95.95 L115.53,95.52 L115.69,95.10 L115.85,94.67 L116.02,94.25 L116.18,93.83 L116.35,93.40 L116.52,92.98 L116.69,92.56 L116.87,92.14 L117.04,91.73 L117.22,91.31 L117.40,90.90 L117.59,90.48 L117.77,90.07 L117.96,89.67 L118.15,89.26 L118.35,88.86 L118.55,88.46 L118.75,88.06 L118.95,87.66 L119.16,87.27 L119.37,86.88 L119.59,86.49 L119.80,86.11 L120.03,85.73 L120.25,85.35 L120.48,84.98 L120.72,84.61 L120.96,84.24 L121.20,83.88 L121.45,83.52 L121.70,83.17 L121.95,82.82 L122.22,82.48 L122.48,82.14 L122.75,81.80 L123.03,81.47 L123.31,81.15 L123.59,80.83 L123.89,80.51 L124.18,80.20 L124.49,79.90 L124.79,79.60 L125.11,79.30 L125.43,79.02 L125.75,78.74 L126.08,78.46 L126.42,78.19 L126.76,77.93 L127.11,77.67 L127.47,77.42 L127.83,77.18 L128.20,76.94 L128.57,76.71 L128.95,76.49 L129.34,76.28 L129.72,76.07 L130.12,75.87 L130.51,75.67 L130.92,75.49 L131.32,75.31 L131.73,75.14 L132.14,74.97 L132.56,74.82 L132.98,74.67 L133.40,74.53 L133.83,74.39 L134.25,74.27 L134.68,74.15 L135.11,74.05 L135.54,73.95 L135.98,73.86 L136.41,73.77 L136.85,73.70 L137.29,73.64 L137.73,73.58 L138.16,73.53 L138.60,73.50 L139.04,73.47 L139.48,73.45 L139.92,73.44 L140.35,73.44 L140.79,73.45 L141.22,73.47 L141.65,73.49 L142.09,73.53 L142.51,73.58 L142.94,73.64 L143.37,73.71 L143.79,73.78 L144.21,73.87 L144.62,73.97 L145.04,74.08 L145.45,74.20 L145.85,74.33 L146.26,74.47 L146.65,74.62 L147.05,74.78 L147.44,74.96 L147.83,75.14 L148.21,75.33 L148.59,75.53 L148.97,75.73 L149.34,75.95 L149.71,76.17 L150.08,76.40 L150.44,76.64 L150.80,76.89 L151.16,77.14 L151.52,77.40 L151.87,77.67 L152.22,77.94 L152.57,78.22 L152.91,78.50 L153.26,78.79 L153.60,79.08 L153.93,79.38 L154.27,79.68 L154.60,79.98 L154.93,80.29 L155.26,80.60 L155.59,80.92 L155.91,81.24 L156.24,81.56 L156.56,81.88 L156.88,82.20 L157.19,82.53 L157.51,82.86 L157.83,83.18 L158.14,83.51 L158.45,83.84 L158.76,84.17 L159.07,84.50 L159.38,84.83 L159.69,85.16 L160.00,85.49 L160.30,85.82 L160.61,86.14 L160.91,86.47 L161.21,86.80 L161.51,87.13 L161.81,87.46 L162.11,87.79 L162.41,88.12 L162.71,88.45 L163.01,88.78 L163.30,89.11 L163.60,89.44 L163.89,89.77 L164.19,90.09 L164.48,90.42 L164.77,90.75 L165.06,91.08 L165.36,91.41 L165.65,91.74 L165.94,92.07 L166.23,92.40 L166.52,92.73 L166.81,93.06 L167.10,93.39 L167.38,93.72 L167.67,94.04 L167.96,94.37 L168.25,94.70 L168.54,95.03 L168.82,95.36 L169.11,95.69 L169.40,96.02 L169.68,96.35 L169.97,96.68 L170.26,97.01 L170.55,97.34 L170.83,97.66 L171.12,97.99 L171.41,98.32 L171.69,98.65 L171.98,98.98 L172.27,99.31 L172.56,99.64 L172.85,99.97 L173.13,100.30 L173.42,100.63 L173.71,100.95 L174.00,101.28 L174.29,101.61 L174.58,101.94 L174.87,102.27 L175.16,102.60 L175.46,102.93 L175.75,103.26 L176.04,103.58 L176.33,103.91 L176.63,104.24 L176.92,104.57 L177.22,104.90 L177.52,105.23 L177.81,105.55 L178.11,105.88 L178.41,106.20 L178.72,106.53 L179.02,106.85 L179.32,107.17 L179.63,107.49 L179.94,107.81 L180.25,108.13 L180.56,108.45 L180.87,108.76 L181.19,109.07 L181.50,109.38 L181.82,109.69 L182.14,110.00 L182.47,110.30 L182.79,110.60 L183.12,110.90 L183.45,111.19 L183.79,111.48 L184.13,111.77 L184.47,112.06 L184.81,112.34 L185.15,112.62 L185.50,112.89 L185.85,113.16 L186.21,113.43 L186.57,113.70 L186.93,113.96 L187.29,114.21 L187.66,114.46 L188.03,114.71 L188.40,114.96 L188.78,115.20 L189.15,115.44 L189.53,115.67 L189.92,115.90 L190.30,116.12 L190.69,116.34 L191.08,116.56 L191.47,116.77 L191.86,116.98 L192.26,117.19 L192.66,117.39 L193.06,117.59 L193.46,117.78 L193.87,117.97 L194.27,118.15 L194.68,118.33 L195.09,118.51 L195.50,118.68 L195.92,118.85 L196.33,119.01 L196.75,119.17 L197.16,119.32 L197.58,119.47 L198.00,119.62 L198.43,119.76 L198.85,119.89 L199.27,120.03 L199.70,120.15 L200.13,120.28 L200.55,120.40 L200.98,120.51 L201.41,120.62 L201.84,120.73 L202.27,120.83 L202.70,120.92 L203.14,121.01 L203.57,121.10 L204.00,121.18 L204.44,121.26 L204.87,121.33 L205.30,121.40 L205.74,121.46 L206.18,121.52 L206.61,121.57 L207.05,121.62 L207.48,121.66 L207.92,121.70 L208.35,121.74 L208.79,121.76 L209.22,121.79 L209.66,121.81 L210.10,121.82 L210.53,121.83 L210.96,121.83 L211.40,121.83 L211.83,121.82 L212.27,121.81 L212.70,121.79 L213.13,121.77 L213.56,121.74 L213.99,121.71 L214.42,121.67 L214.85,121.63 L215.28,121.58 L215.70,121.53 L216.13,121.47 L216.55,121.41 L216.98,121.34 L217.40,121.26 L217.82,121.18 L218.24,121.09 L218.66,121.00 L219.07,120.91 L219.49,120.81 L219.90,120.70 L220.32,120.59 L220.73,120.47 L221.14,120.35 L221.55,120.23 L221.96,120.10 L222.37,119.97 L222.78,119.83 L223.19,119.69 L223.59,119.54 L224.00,119.39 L224.40,119.24 L224.80,119.08 L225.21,118.92 L225.61,118.76 L226.01,118.59 L226.41,118.42 L226.81,118.25 L227.21,118.07 L227.61,117.89 L228.01,117.70 L228.40,117.52 L228.80,117.33 L229.20,117.14 L229.59,116.94 L229.99,116.75 L230.38,116.55 L230.78,116.35 L231.17,116.15 L231.57,115.94 L231.96,115.73 L232.35,115.52 L232.75,115.31 L233.14,115.10 L233.53,114.89 L233.92,114.67 L234.32,114.46 L234.71,114.24 L235.10,114.02 L235.49,113.80 L235.88,113.58 L236.28,113.36 L236.67,113.13 L237.06,112.91 L237.45,112.69 L237.84,112.46 L238.24,112.24 L238.63,112.01 L239.02,111.79 L239.41,111.56 L239.81,111.34 L240.20,111.11 L240.59,110.89 L240.99,110.66 L241.38,110.44 L241.78,110.22 L242.17,109.99 L242.57,109.77 L242.96,109.55 L243.36,109.33 L243.76,109.11 L244.15,108.89 L244.55,108.68 L244.95,108.46 L245.35,108.25 L245.75,108.03 L246.15,107.82 L246.55,107.61 L246.95,107.40 L247.35,107.20 L247.76,106.99 L248.16,106.79 L248.56,106.59 L248.97,106.39 L249.37,106.19 L249.78,105.99 L250.18,105.79 L250.59,105.60 L251.00,105.41 L251.40,105.22 L251.81,105.03 L252.22,104.84 L252.63,104.66 L253.04,104.48 L253.45,104.30 L253.86,104.12 L254.27,103.94 L254.68,103.77 L255.09,103.60 L255.51,103.43 L255.92,103.26 L256.33,103.10 L256.75,102.93 L257.16,102.77 L257.57,102.61 L257.99,102.46 L258.41,102.30 L258.82,102.15 L259.24,102.01 L259.65,101.86 L260.07,101.72 L260.49,101.58 L260.91,101.44 L261.33,101.30 L261.74,101.17 L262.16,101.04 L262.58,100.91 L263.00,100.79 L263.42,100.67 L263.85,100.55 L264.27,100.43 L264.69,100.32 L265.11,100.21 L265.53,100.10 L265.96,100.00 L266.38,99.90 L266.80,99.80 L267.23,99.70 L267.65,99.61 L268.08,99.52 L268.50,99.44 L268.93,99.36 L269.35,99.28 L269.78,99.20 L270.20,99.13 L270.63,99.06 L271.06,99.00 L271.48,98.93 L271.91,98.88 L272.34,98.82 L272.77,98.77 L273.20,98.72 L273.63,98.68 L274.05,98.64 L274.48,98.60 L274.91,98.57 L275.34,98.54 L275.77,98.52 L276.20,98.50 L276.63,98.48 L277.07,98.46 L277.50,98.45 L277.93,98.45 L278.36,98.45 L278.79,98.45 L279.22,98.45 L279.66,98.46 L280.09,98.47 L280.52,98.48 L280.95,98.50 L281.39,98.52 L281.82,98.55 L282.25,98.58 L282.69,98.61 L283.12,98.64 L283.55,98.68 L283.99,98.72 L284.42,98.76 L284.86,98.81 L285.29,98.86 L285.72,98.91 L286.16,98.96 L286.59,99.02 L287.03,99.08 L287.46,99.14 L287.90,99.21 L288.33,99.28 L288.76,99.35 L289.20,99.42 L289.63,99.50 L290.07,99.57 L290.50,99.65 L290.94,99.74 L291.37,99.82 L291.80,99.91 L292.24,100.00 L292.67,100.09 L293.11,100.18 L293.54,100.28 L293.97,100.38 L294.41,100.47 L294.84,100.58 L295.28,100.68 L295.71,100.78 L296.14,100.89 L296.58,101.00 L297.01,101.11 L297.44,101.22 L297.87,101.33 L298.31,101.45 L298.74,101.56 L299.17,101.68 L299.60,101.80 L300.03,101.92 L300.46,102.04 L300.90,102.16 L301.33,102.29 L301.76,102.41 L302.19,102.54 L302.62,102.67 L303.05,102.80 L303.48,102.93 L303.91,103.06 L304.34,103.19 L304.76,103.32 L305.19,103.45 L305.62,103.59 L306.05,103.72 L306.48,103.85 L306.90,103.99 L307.33,104.12 L307.76,104.26 L308.19,104.40 L308.61,104.53 L309.04,104.67 L309.46,104.81 L309.89,104.95 L310.32,105.08 L310.74,105.22 L311.17,105.36 L311.59,105.50 L312.02,105.64 L312.45,105.77 L312.87,105.91 L313.30,106.05 L313.72,106.18 L314.15,106.32 L314.57,106.46 L315.00,106.59 L315.42,106.73 L315.85,106.86 L316.27,106.99 L316.70,107.13 L317.12,107.26 L317.55,107.39 L317.97,107.52 L318.40,107.65 L318.82,107.78 L319.25,107.91 L319.67,108.04 L320.10,108.16 L320.52,108.29 L320.95,108.41 L321.37,108.53 L321.80,108.65 L322.22,108.77 L322.65,108.89 L323.07,109.01 L323.50,109.12 L323.93,109.23 L324.35,109.35 L324.78,109.46 L325.20,109.56 L325.63,109.67 L326.06,109.77 L326.48,109.88 L326.91,109.98 L327.34,110.08 L327.76,110.17 L328.19,110.27 L328.62,110.36 L329.05,110.45 L329.48,110.54 L329.90,110.62 L330.33,110.71 L330.76,110.79 L331.19,110.87 L331.62,110.94 L332.05,111.01 L332.48,111.08 L332.91,111.15 L333.34,111.22 L333.77,111.28 L334.20,111.34 L334.63,111.39 L335.06,111.45 L335.50,111.50 L335.93,111.55 L336.36,111.59 L336.80,111.63 L337.23,111.67 L337.66,111.71 L338.10,111.74 L338.53,111.77 L338.96,111.80 L339.40,111.83 L339.83,111.85 L340.27,111.87 L340.71,111.89 L341.14,111.91 L341.58,111.92 L342.01,111.93 L342.45,111.94 L342.89,111.95 L343.32,111.96 L343.76,111.96 L344.20,111.96 L344.63,111.96 L345.07,111.95 L345.51,111.95 L345.95,111.94 L346.39,111.93 L346.82,111.92 L347.26,111.91 L347.70,111.90 L348.14,111.88 L348.58,111.86 L349.02,111.84 L349.45,111.82 L349.89,111.80 L350.33,111.77 L350.77,111.75 L351.21,111.72 L351.65,111.69 L352.09,111.66 L352.53,111.63 L352.97,111.60 L353.41,111.57 L353.85,111.53 L354.29,111.50 L354.73,111.46 L355.17,111.42 L355.61,111.38 L356.05,111.34 L356.49,111.30 L356.92,111.26 L357.36,111.22 L357.80,111.17 L358.24,111.13 L358.68,111.08 L359.12,111.04 L359.56,110.99 L360.00,110.94 L360.44,110.90 L360.88,110.85 L361.32,110.80 L361.76,110.75 L362.20,110.70 L362.64,110.65 L363.07,110.60 L363.51,110.54 L363.95,110.49 L364.39,110.44 L364.83,110.39 L365.27,110.33 L365.71,110.28 L366.15,110.22 L366.58,110.17 L367.02,110.11 L367.46,110.05 L367.90,110.00 L368.34,109.94 L368.78,109.88 L369.22,109.83 L369.65,109.77 L370.09,109.71 L370.53,109.65 L370.97,109.59 L371.41,109.53 L371.85,109.47 L372.28,109.41 L372.72,109.35 L373.16,109.29 L373.60,109.23 L374.04,109.17 L374.47,109.11 L374.91,109.05 L375.35,108.98 L375.79,108.92 L376.23,108.86 L376.66,108.80 L377.10,108.74 L377.54,108.67 L377.98,108.61 L378.41,108.55 L378.85,108.49 L379.29,108.42 L379.73,108.36 L380.16,108.30 L380.60,108.23 L381.04,108.17 L381.48,108.11 L381.92,108.04 L382.35,107.98 L382.79,107.92 L383.23,107.86 L383.67,107.79 L384.10,107.73 L384.54,107.67 L384.98,107.60 L385.42,107.54 L385.85,107.48 L386.29,107.42 L386.73,107.35 L387.17,107.29 L387.60,107.23 L388.04,107.17 L388.48,107.11 L388.92,107.04 L389.35,106.98 L389.79,106.92 L390.23,106.86 L390.66,106.80 L391.10,106.74 L391.54,106.68 L391.98,106.62 L392.41,106.56 L392.85,106.50 L393.29,106.44 L393.73,106.39 L394.16,106.33 L394.60,106.27 L395.04,106.21 L395.48,106.16 L395.91,106.10 L396.35,106.04 L396.79,105.99 L397.23,105.93 L397.66,105.88 L398.10,105.82 L398.54,105.77 L398.98,105.72 L399.41,105.66 L399.85,105.61 L400.29,105.56 L400.73,105.51 L401.16,105.46 L401.60,105.41 L402.04,105.36 L402.48,105.31 L402.92,105.26 L403.35,105.21 L403.79,105.17 L404.23,105.12 L404.67,105.07 L405.10,105.03 L405.54,104.98 L405.98,104.94 L406.42,104.90 L406.86,104.85 L407.29,104.81 L407.73,104.77 L408.17,104.73 L408.61,104.69 L409.05,104.65 L409.48,104.62 L409.92,104.58 L410.36,104.54 L410.80,104.51 L411.24,104.47 L411.67,104.44 L412.11,104.41 L412.55,104.38 L412.99,104.35 L413.43,104.32 L413.87,104.29 L414.30,104.26 L414.74,104.23 L415.18,104.21 L415.62,104.18 L416.06,104.16 L416.50,104.13 L416.94,104.11 L417.37,104.09 L417.81,104.07 L418.25,104.05 L418.69,104.03 L419.13,104.02 L419.57,104.00 L420.01,103.99 L420.45,103.97 L420.89,103.96 L421.33,103.95 L421.76,103.94 L422.20,103.93 L422.64,103.92 L423.08,103.92 L423.52,103.91 L423.96,103.91 L424.40,103.90 L424.84,103.90 L425.28,103.90 L425.72,103.90 L426.16,103.90 L426.60,103.91 L427.04,103.91 L427.48,103.92 L427.92,103.92 L428.36,103.93 L428.80,103.94 L429.24,103.95 L429.68,103.96 L430.12,103.97 L430.56,103.99 L431.00,104.00 L431.44,104.01 L431.88,104.03 L432.32,104.05 L432.76,104.07 L433.20,104.08 L433.64,104.10 L434.08,104.12 L434.53,104.15 L434.97,104.17 L435.41,104.19 L435.85,104.21 L436.29,104.24 L436.73,104.26 L437.17,104.29 L437.61,104.32 L438.05,104.34 L438.49,104.37 L438.93,104.40 L439.38,104.43 L439.82,104.46 L440.26,104.49 L440.70,104.52 L441.14,104.56 L441.58,104.59 L442.02,104.62 L442.46,104.66 L442.91,104.69 L443.35,104.73 L443.79,104.76 L444.23,104.80 L444.67,104.83 L445.11,104.87 L445.55,104.91 L446.00,104.94 L446.44,104.98 L446.88,105.02 L447.32,105.06 L447.76,105.10 L448.20,105.14 L448.64,105.18 L449.09,105.22 L449.53,105.26 L449.97,105.30 L450.41,105.34 L450.85,105.38 L451.29,105.42 L451.74,105.46 L452.18,105.50 L452.62,105.55 L453.06,105.59 L453.50,105.63 L453.94,105.67 L454.39,105.71 L454.83,105.75 L455.27,105.80 L455.71,105.84 L456.15,105.88 L456.60,105.92 L457.04,105.97 L457.48,106.01 L457.92,106.05 L458.36,106.09 L458.80,106.13 L459.25,106.18 L459.69,106.22 L460.13,106.26 L460.57,106.30 L461.01,106.34 L461.45,106.38 L461.90,106.42 L462.34,106.46 L462.78,106.50 L463.22,106.54 L463.66,106.58 L464.11,106.62 L464.55,106.66 L464.99,106.70 L465.43,106.74 L465.87,106.78 L466.31,106.81 L466.76,106.85 L467.20,106.89 L467.64,106.92 L468.08,106.96 L468.52,106.99 L468.96,107.03 L469.40,107.06 L469.85,107.10 L470.29,107.13 L470.73,107.16 L471.17,107.19 L471.61,107.23 L472.05,107.26 L472.50,107.29 L472.94,107.32 L473.38,107.35 L473.82,107.37 L474.26,107.40 L474.70,107.43 L475.14,107.45 L475.58,107.48 L476.03,107.50 L476.47,107.53 L476.91,107.55 L477.35,107.57 L477.79,107.59 L478.23,107.61 L478.67,107.63 L479.11,107.65 L479.55,107.67 L480.00,107.69 L480.44,107.70 L480.88,107.72 L481.32,107.73 L481.76,107.74 L482.20,107.75 L482.64,107.77 L483.08,107.78 L483.52,107.78 L483.96,107.79 L484.40,107.80 L484.84,107.80 L485.28,107.81 L485.72,107.81 L486.16,107.81 L486.60,107.81 L487.04,107.81 L487.48,107.81 L487.92,107.81 L488.36,107.81 L488.80,107.80 L489.25,107.80 L489.69,107.79 L490.13,107.78 L490.57,107.77 L491.01,107.76 L491.45,107.75 L491.88,107.74 L492.32,107.73 L492.76,107.72 L493.20,107.71 L493.64,107.69 L494.08,107.68 L494.52,107.66 L494.96,107.65 L495.40,107.63 L495.84,107.61 L496.28,107.59 L496.72,107.58 L497.16,107.56 L497.60,107.54 L498.04,107.52 L498.48,107.49 L498.92,107.47 L499.36,107.45 L499.80,107.43 L500.24,107.41 L500.68,107.38 L501.12,107.36 L501.56,107.33 L502.00,107.31 L502.44,107.28 L502.88,107.26 L503.32,107.23 L503.76,107.21 L504.20,107.18 L504.64,107.16 L505.08,107.13 L505.52,107.10 L505.96,107.07 L506.40,107.05 L506.84,107.02 L507.28,106.99 L507.72,106.97 L508.16,106.94 L508.60,106.91 L509.04,106.88 L509.48,106.85 L509.92,106.83 L510.36,106.80 L510.80,106.77 L511.24,106.74 L511.68,106.72 L512.12,106.69 L512.56,106.66 L513.00,106.63 L513.44,106.61 L513.88,106.58 L514.32,106.55 L514.76,106.53 L515.20,106.50 L515.64,106.47 L516.08,106.45 L516.52,106.42 L516.96,106.40 L517.40,106.37 L517.84,106.35 L518.28,106.33 L518.72,106.30 L519.17,106.28 L519.61,106.26 L520.05,106.23 L520.49,106.21 L520.93,106.19 L521.37,106.17 L521.81,106.15 L522.25,106.13 L522.69,106.11 L523.14,106.09 L523.58,106.08 L524.02,106.06 L524.46,106.04 L524.90,106.03 L525.34,106.01 L525.79,106.00 L526.23,105.99 L526.67,105.97 L527.11,105.96 L527.56,105.95 L528.00,105.94 L528.44,105.93 L528.88,105.92 L529.33,105.92 L529.77,105.91 L530.21,105.90 L530.65,105.90 L531.10,105.90 L531.54,105.89 L531.98,105.89 L532.43,105.89 L532.87,105.89 L533.31,105.89 L533.76,105.90 L534.20,105.90 L534.64,105.91 L535.09,105.91 L535.53,105.92 L535.98,105.93 L536.42,105.94" stroke="#EDB120" stroke-width="1.2"/>
<line x1="64.5" y1="106.67" x2="536.4" y2="106.67" stroke="#666" stroke-width="1.2"/>
<line x1="64.5" y1="102.02" x2="536.4" y2="102.02" stroke="#8c8c8c" stroke-width="1.25" stroke-dasharray="11 6.37"/>
<line x1="64.5" y1="111.33" x2="536.4" y2="111.33" stroke="#8c8c8c" stroke-width="1.25" stroke-dasharray="11 6.37"/>
<path d="M65.0,338.2 L67.3,360.4 L69.8,339.4 L69.74,339.39 L69.81,338.88 L69.89,338.37 L69.97,337.86 L70.05,337.35 L70.13,336.83 L70.21,336.32 L70.29,335.81 L70.37,335.30 L70.45,334.79 L70.53,334.28 L70.61,333.77 L70.70,333.26 L70.78,332.75 L70.86,332.24 L70.94,331.73 L71.02,331.22 L71.10,330.71 L71.19,330.19 L71.27,329.68 L71.35,329.17 L71.43,328.66 L71.51,328.15 L71.60,327.64 L71.68,327.13 L71.76,326.62 L71.85,326.11 L71.93,325.60 L72.01,325.09 L72.09,324.58 L72.18,324.07 L72.26,323.56 L72.34,323.05 L72.43,322.54 L72.51,322.03 L72.59,321.52 L72.68,321.01 L72.76,320.49 L72.84,319.98 L72.93,319.47 L73.01,318.96 L73.09,318.45 L73.18,317.94 L73.26,317.43 L73.34,316.92 L73.42,316.41 L73.51,315.90 L73.59,315.39 L73.67,314.88 L73.76,314.37 L73.84,313.86 L73.92,313.35 L74.00,312.84 L74.08,312.33 L74.17,311.82 L74.25,311.30 L74.33,310.79 L74.41,310.28 L74.49,309.77 L74.57,309.26 L74.66,308.75 L74.74,308.24 L74.82,307.73 L74.90,307.22 L74.98,306.71 L75.06,306.20 L75.14,305.69 L75.22,305.17 L75.30,304.66 L75.38,304.15 L75.46,303.64 L75.53,303.13 L75.61,302.62 L75.69,302.11 L75.77,301.60 L75.85,301.09 L75.92,300.57 L76.00,300.06 L76.08,299.55 L76.15,299.04 L76.23,298.53 L76.31,298.02 L76.38,297.51 L76.46,296.99 L76.53,296.48 L76.61,295.97 L76.68,295.46 L76.75,294.95 L76.83,294.44 L76.90,293.92 L76.97,293.41 L77.05,292.90 L77.12,292.39 L77.19,291.88 L77.26,291.36 L77.33,290.85 L77.40,290.34 L77.47,289.83 L77.54,289.31 L77.61,288.80 L77.68,288.29 L77.74,287.78 L77.81,287.26 L77.88,286.75 L77.94,286.24 L78.01,285.73 L78.08,285.21 L78.14,284.70 L78.20,284.19 L78.27,283.67 L78.33,283.16 L78.40,282.65 L78.46,282.14 L78.52,281.62 L78.58,281.11 L78.64,280.60 L78.71,280.08 L78.77,279.57 L78.83,279.05 L78.89,278.54 L78.95,278.03 L79.00,277.51 L79.06,277.00 L79.12,276.49 L79.18,275.97 L79.24,275.46 L79.29,274.94 L79.35,274.43 L79.41,273.92 L79.46,273.40 L79.52,272.89 L79.57,272.37 L79.63,271.86 L79.68,271.35 L79.74,270.83 L79.79,270.32 L79.84,269.80 L79.90,269.29 L79.95,268.77 L80.00,268.26 L80.05,267.74 L80.11,267.23 L80.16,266.72 L80.21,266.20 L80.26,265.69 L80.31,265.17 L80.36,264.66 L80.41,264.14 L80.46,263.63 L80.51,263.11 L80.56,262.60 L80.61,262.08 L80.66,261.57 L80.70,261.05 L80.75,260.54 L80.80,260.02 L80.85,259.51 L80.89,258.99 L80.94,258.48 L80.99,257.96 L81.03,257.45 L81.08,256.93 L81.13,256.41 L81.17,255.90 L81.22,255.38 L81.26,254.87 L81.31,254.35 L81.35,253.84 L81.40,253.32 L81.44,252.81 L81.49,252.29 L81.53,251.78 L81.57,251.26 L81.62,250.74 L81.66,250.23 L81.70,249.71 L81.75,249.20 L81.79,248.68 L81.83,248.17 L81.88,247.65 L81.92,247.13 L81.96,246.62 L82.00,246.10 L82.04,245.59 L82.09,245.07 L82.13,244.56 L82.17,244.04 L82.21,243.52 L82.25,243.01 L82.29,242.49 L82.33,241.98 L82.37,241.46 L82.41,240.94 L82.45,240.43 L82.50,239.91 L82.54,239.40 L82.58,238.88 L82.62,238.36 L82.66,237.85 L82.70,237.33 L82.74,236.82 L82.78,236.30 L82.81,235.78 L82.85,235.27 L82.89,234.75 L82.93,234.24 L82.97,233.72 L83.01,233.20 L83.05,232.69 L83.09,232.17 L83.13,231.66 L83.17,231.14 L83.21,230.62 L83.25,230.11 L83.29,229.59 L83.32,229.08 L83.36,228.56 L83.40,228.04 L83.44,227.53 L83.48,227.01 L83.52,226.50 L83.56,225.98 L83.60,225.46 L83.64,224.95 L83.67,224.43 L83.71,223.92 L83.75,223.40 L83.79,222.88 L83.83,222.37 L83.87,221.85 L83.91,221.34 L83.95,220.82 L83.99,220.30 L84.02,219.79 L84.06,219.27 L84.10,218.76 L84.14,218.24 L84.18,217.72 L84.22,217.21 L84.26,216.69 L84.30,216.18 L84.34,215.66 L84.38,215.14 L84.41,214.63 L84.45,214.11 L84.49,213.60 L84.53,213.08 L84.57,212.56 L84.61,212.05 L84.65,211.53 L84.69,211.02 L84.73,210.50 L84.77,209.99 L84.81,209.47 L84.85,208.95 L84.89,208.44 L84.92,207.92 L84.96,207.41 L85.00,206.89 L85.04,206.37 L85.08,205.86 L85.12,205.34 L85.16,204.83 L85.20,204.31 L85.24,203.80 L85.28,203.28 L85.32,202.76 L85.36,202.25 L85.40,201.73 L85.44,201.22 L85.48,200.70 L85.52,200.19 L85.56,199.67 L85.60,199.15 L85.64,198.64 L85.68,198.12 L85.72,197.61 L85.76,197.09 L85.80,196.58 L85.84,196.06 L85.88,195.54 L85.92,195.03 L85.96,194.51 L86.00,194.00 L86.04,193.48 L86.08,192.97 L86.12,192.45 L86.17,191.94 L86.21,191.42 L86.25,190.90 L86.29,190.39 L86.33,189.87 L86.37,189.36 L86.41,188.84 L86.45,188.33 L86.49,187.81 L86.53,187.30 L86.58,186.78 L86.62,186.26 L86.66,185.75 L86.70,185.23 L86.74,184.72 L86.78,184.20 L86.83,183.69 L86.87,183.17 L86.91,182.66 L86.95,182.14 L86.99,181.63 L87.04,181.11 L87.08,180.59 L87.12,180.08 L87.16,179.56 L87.20,179.05 L87.25,178.53 L87.29,178.02 L87.33,177.50 L87.37,176.99 L87.42,176.47 L87.46,175.96 L87.50,175.44 L87.55,174.93 L87.59,174.41 L87.63,173.89 L87.68,173.38 L87.72,172.86 L87.76,172.35 L87.81,171.83 L87.85,171.32 L87.89,170.80 L87.94,170.29 L87.98,169.77 L88.03,169.26 L88.07,168.74 L88.11,168.23 L88.16,167.71 L88.20,167.20 L88.25,166.68 L88.29,166.17 L88.34,165.65 L88.38,165.14 L88.43,164.62 L88.47,164.11 L88.52,163.59 L88.56,163.08 L88.61,162.56 L88.65,162.05 L88.70,161.53 L88.74,161.02 L88.79,160.50 L88.84,159.99 L88.88,159.47 L88.93,158.96 L88.97,158.44 L89.02,157.93 L89.07,157.41 L89.11,156.90 L89.16,156.38 L89.21,155.87 L89.25,155.35 L89.30,154.84 L89.35,154.32 L89.40,153.81 L89.44,153.29 L89.49,152.78 L89.54,152.26 L89.59,151.75 L89.63,151.23 L89.68,150.72 L89.73,150.20 L89.78,149.69 L89.83,149.17 L89.87,148.66 L89.92,148.14 L89.97,147.63 L90.02,147.11 L90.07,146.60 L90.12,146.09 L90.17,145.57 L90.22,145.06 L90.27,144.54 L90.32,144.03 L90.37,143.51 L90.42,143.00 L90.47,142.48 L90.52,141.97 L90.57,141.45 L90.62,140.94 L90.67,140.42 L90.72,139.91 L90.77,139.40 L90.82,138.88 L90.87,138.37 L90.92,137.85 L90.98,137.34 L91.03,136.82 L91.08,136.31 L91.13,135.79 L91.18,135.28 L91.24,134.76 L91.29,134.25 L91.34,133.74 L91.39,133.22 L91.45,132.71 L91.50,132.19 L91.55,131.68 L91.61,131.16 L91.66,130.65 L91.71,130.14 L91.77,129.62 L91.82,129.11 L91.88,128.59 L91.93,128.08 L91.98,127.56 L92.04,127.05 L92.09,126.54 L92.15,126.02 L92.20,125.51 L92.26,124.99 L92.31,124.48 L92.37,123.97 L92.43,123.45 L92.48,122.94 L92.54,122.42 L92.59,121.91 L92.65,121.39 L92.71,120.88 L92.76,120.37 L92.82,119.85 L92.88,119.34 L92.94,118.82 L92.99,118.31 L93.05,117.80 L93.11,117.28 L93.17,116.77 L93.22,116.25 L93.28,115.74 L93.34,115.23 L93.40,114.71 L93.46,114.20 L93.52,113.69 L93.58,113.17 L93.64,112.66 L93.70,112.14 L93.76,111.63 L93.82,111.12 L93.88,110.60 L93.94,110.09 L94.00,109.57 L94.06,109.06 L94.12,108.55 L94.18,108.03 L94.24,107.52 L94.31,107.01 L94.37,106.49 L94.43,105.98 L94.49,105.47 L94.55,104.95 L94.62,104.44 L94.68,103.92 L94.74,103.41 L94.81,102.90 L94.87,102.38 L94.93,101.87 L95.00,101.36 L95.06,100.84 L95.12,100.33 L95.19,99.82 L95.25,99.30 L95.32,98.79 L95.38,98.28 L95.44,97.76 L95.51,97.25 L95.57,96.74 L95.64,96.22 L95.70,95.71 L95.77,95.20 L95.83,94.68 L95.90,94.17 L95.96,93.66 L96.03,93.14 L96.09,92.63 L96.16,92.12 L96.22,91.60 L96.29,91.09 L96.35,90.58 L96.42,90.06 L96.48,89.55 L96.55,89.04 L96.62,88.52 L96.68,88.01 L96.75,87.50 L96.81,86.98 L96.88,86.47 L96.94,85.96 L97.01,85.44 L97.07,84.93 L97.14,84.42 L97.20,83.91 L97.27,83.39 L97.33,82.88 L97.40,82.37 L97.46,81.85 L97.53,81.34 L97.59,80.83 L97.65,80.31 L97.72,79.80 L97.78,79.29 L97.85,78.77 L97.91,78.26 L97.97,77.75 L98.04,77.24 L98.10,76.72 L98.17,76.21 L98.23,75.70 L98.29,75.18 L98.35,74.67 L98.42,74.16 L98.48,73.64 L98.54,73.13 L98.60,72.62 L98.67,72.11 L98.73,71.59 L98.79,71.08 L98.85,70.57 L98.91,70.05 L98.97,69.54 L99.03,69.03 L99.09,68.52 L99.16,68.00 L99.22,67.49 L99.28,66.98 L99.34,66.46 L99.40,65.95 L99.46,65.44 L99.52,64.93 L99.58,64.41 L99.65,63.90 L99.71,63.39 L99.77,62.88 L99.84,62.37 L99.90,61.85 L99.97,61.34 L100.04,60.83 L100.10,60.32 L100.17,59.81 L100.24,59.30 L100.31,58.79 L100.38,58.28 L100.46,57.77 L100.53,57.26 L100.61,56.75 L100.69,56.24 L100.76,55.73 L100.84,55.22 L100.93,54.71 L101.01,54.21 L101.10,53.70 L101.18,53.19 L101.27,52.68 L101.36,52.18 L101.46,51.67 L101.55,51.16 L101.65,50.66 L101.76,50.15 L101.86,49.65 L101.97,49.14 L102.08,48.64 L102.19,48.13 L102.31,47.63 L102.43,47.13 L102.55,46.62 L102.68,46.12 L102.81,45.62 L102.94,45.12 L103.08,44.62 L103.22,44.12 L103.37,43.62 L103.51,43.12 L103.67,42.62 L103.83,42.12 L103.99,41.62 L104.16,41.12 L104.33,40.63 L104.51,40.13 L104.69,39.63 L104.87,39.14 L105.07,38.64 L105.26,38.15 L105.47,37.65 L105.67,37.16 L105.89,36.67 L106.11,36.18 L106.33,35.68 L106.56,35.19 L106.80,34.70 L107.04,34.21 L107.29,33.72 L107.54,33.23 L107.80,32.75 L108.07,32.26 L108.35,31.79 L108.63,31.35 L108.93,30.93 L109.23,30.55 L109.55,30.23 L109.87,29.96 L110.21,29.76 L110.57,29.63 L110.93,29.59 L111.31,29.63 L111.71,29.76 L112.11,29.97 L112.51,30.24 L112.91,30.57 L113.31,30.94 L113.70,31.36 L114.08,31.81 L114.44,32.28 L114.79,32.76 L115.11,33.25 L115.40,33.74 L115.68,34.23 L115.93,34.72 L116.17,35.22 L116.38,35.71 L116.58,36.21 L116.76,36.71 L116.93,37.21 L117.09,37.71 L117.23,38.21 L117.36,38.72 L117.49,39.22 L117.60,39.72 L117.71,40.23 L117.82,40.73 L117.92,41.24 L118.02,41.75 L118.11,42.25 L118.21,42.76 L118.31,43.26 L118.41,43.77 L118.51,44.27 L118.62,44.78 L118.72,45.28 L118.83,45.79 L118.95,46.29 L119.06,46.80 L119.18,47.30 L119.29,47.80 L119.41,48.31 L119.53,48.81 L119.65,49.32 L119.77,49.82 L119.90,50.32 L120.02,50.83 L120.14,51.33 L120.27,51.83 L120.39,52.34 L120.52,52.84 L120.64,53.34 L120.76,53.84 L120.89,54.35 L121.01,54.85 L121.13,55.35 L121.25,55.86 L121.38,56.36 L121.49,56.87 L121.61,57.37 L121.73,57.87 L121.85,58.38 L121.96,58.88 L122.08,59.39 L122.19,59.89 L122.30,60.39 L122.41,60.90 L122.52,61.40 L122.63,61.91 L122.74,62.41 L122.85,62.92 L122.96,63.42 L123.06,63.93 L123.17,64.43 L123.27,64.94 L123.38,65.44 L123.48,65.95 L123.58,66.46 L123.69,66.96 L123.79,67.47 L123.89,67.97 L123.99,68.48 L124.09,68.98 L124.19,69.49 L124.28,70.00 L124.38,70.50 L124.48,71.01 L124.58,71.51 L124.67,72.02 L124.77,72.53 L124.86,73.03 L124.96,73.54 L125.05,74.05 L125.15,74.55 L125.24,75.06 L125.34,75.57 L125.43,76.07 L125.52,76.58 L125.62,77.09 L125.71,77.59 L125.80,78.10 L125.89,78.61 L125.98,79.11 L126.08,79.62 L126.17,80.13 L126.26,80.64 L126.35,81.14 L126.44,81.65 L126.53,82.16 L126.62,82.67 L126.71,83.17 L126.80,83.68 L126.90,84.19 L126.99,84.70 L127.08,85.20 L127.17,85.71 L127.26,86.22 L127.35,86.73 L127.44,87.23 L127.53,87.74 L127.62,88.25 L127.72,88.76 L127.81,89.26 L127.90,89.77 L127.99,90.28 L128.09,90.79 L128.18,91.29 L128.27,91.80 L128.36,92.31 L128.46,92.82 L128.55,93.32 L128.65,93.83 L128.74,94.34 L128.84,94.85 L128.93,95.36 L129.03,95.86 L129.13,96.37 L129.22,96.88 L129.32,97.39 L129.42,97.89 L129.52,98.40 L129.62,98.91 L129.72,99.42 L129.82,99.92 L129.92,100.43 L130.02,100.94 L130.12,101.45 L130.23,101.95 L130.33,102.46 L130.44,102.97 L130.54,103.48 L130.65,103.98 L130.75,104.49 L130.86,105.00 L130.97,105.51 L131.08,106.01 L131.19,106.52 L131.30,107.03 L131.41,107.54 L131.53,108.04 L131.64,108.55 L131.76,109.06 L131.87,109.56 L131.99,110.07 L132.11,110.58 L132.23,111.09 L132.35,111.59 L132.47,112.10 L132.59,112.61 L132.71,113.11 L132.84,113.62 L132.96,114.13 L133.09,114.63 L133.22,115.14 L133.35,115.65 L133.48,116.15 L133.61,116.66 L133.74,117.16 L133.88,117.67 L134.01,118.18 L134.15,118.68 L134.28,119.19 L134.42,119.69 L134.56,120.20 L134.70,120.70 L134.84,121.21 L134.98,121.71 L135.12,122.22 L135.26,122.72 L135.41,123.23 L135.55,123.73 L135.69,124.23 L135.84,124.74 L135.98,125.24 L136.12,125.74 L136.27,126.24 L136.41,126.75 L136.56,127.25 L136.70,127.75 L136.84,128.25 L136.99,128.75 L137.13,129.25 L137.27,129.75 L137.42,130.24 L137.56,130.74 L137.70,131.24 L137.84,131.74 L137.99,132.23 L138.13,132.73 L138.27,133.22 L138.41,133.72 L138.54,134.21 L138.68,134.70 L138.82,135.20 L138.95,135.69 L139.09,136.18 L139.22,136.67 L139.35,137.16 L139.48,137.65 L139.61,138.14 L139.74,138.62 L139.87,139.11 L140.00,139.60 L140.12,140.08 L140.24,140.56 L140.36,141.05 L140.48,141.53 L140.60,142.01 L140.72,142.49 L140.83,142.97 L140.94,143.45 L141.06,143.93 L141.17,144.41 L141.28,144.88 L141.39,145.36 L141.50,145.84 L141.61,146.32 L141.72,146.79 L141.83,147.27 L141.95,147.76 L142.07,148.24 L142.19,148.72 L142.31,149.21 L142.44,149.70 L142.57,150.19 L142.71,150.68 L142.85,151.17 L143.00,151.67 L143.16,152.17 L143.32,152.68 L143.48,153.19 L143.66,153.70 L143.84,154.22 L144.03,154.74 L144.23,155.27 L144.44,155.80 L144.66,156.33 L144.88,156.87 L145.12,157.42 L145.37,157.97 L145.63,158.53 L145.90,159.09 L146.18,159.65 L146.47,160.20 L146.77,160.73 L147.08,161.25 L147.40,161.75 L147.72,162.21 L148.05,162.65 L148.39,163.04 L148.73,163.39 L149.08,163.70 L149.44,163.95 L149.80,164.14 L150.16,164.27 L150.53,164.32 L150.90,164.31 L151.27,164.23 L151.64,164.09 L152.02,163.89 L152.39,163.63 L152.76,163.33 L153.13,162.98 L153.50,162.59 L153.86,162.17 L154.22,161.71 L154.57,161.23 L154.91,160.73 L155.25,160.21 L155.58,159.68 L155.90,159.14 L156.21,158.59 L156.51,158.05 L156.80,157.51 L157.08,156.98 L157.35,156.45 L157.60,155.93 L157.85,155.42 L158.09,154.91 L158.32,154.40 L158.53,153.90 L158.75,153.40 L158.95,152.90 L159.14,152.41 L159.33,151.92 L159.51,151.44 L159.69,150.96 L159.86,150.48 L160.02,150.00 L160.18,149.52 L160.33,149.05 L160.48,148.57 L160.63,148.10 L160.77,147.63 L160.91,147.16 L161.04,146.69 L161.18,146.22 L161.31,145.75 L161.44,145.28 L161.57,144.81 L161.69,144.34 L161.82,143.87 L161.95,143.40 L162.08,142.92 L162.21,142.44 L162.34,141.96 L162.47,141.48 L162.60,141.00 L162.73,140.52 L162.86,140.03 L163.00,139.55 L163.13,139.06 L163.26,138.57 L163.40,138.08 L163.53,137.59 L163.67,137.09 L163.80,136.60 L163.94,136.10 L164.08,135.61 L164.21,135.11 L164.35,134.61 L164.49,134.11 L164.63,133.61 L164.76,133.11 L164.90,132.61 L165.04,132.11 L165.18,131.60 L165.32,131.10 L165.46,130.60 L165.59,130.09 L165.73,129.59 L165.87,129.08 L166.01,128.58 L166.15,128.07 L166.28,127.57 L166.42,127.06 L166.56,126.56 L166.70,126.05 L166.83,125.54 L166.97,125.04 L167.11,124.53 L167.24,124.03 L167.38,123.52 L167.51,123.02 L167.65,122.51 L167.78,122.01 L167.91,121.51 L168.05,121.00 L168.18,120.50 L168.31,120.00 L168.44,119.49 L168.58,118.99 L168.71,118.49 L168.84,117.99 L168.97,117.49 L169.10,116.99 L169.23,116.48 L169.36,115.98 L169.49,115.48 L169.62,114.98 L169.75,114.48 L169.88,113.98 L170.01,113.48 L170.14,112.98 L170.27,112.48 L170.40,111.98 L170.53,111.48 L170.66,110.98 L170.79,110.48 L170.92,109.99 L171.05,109.49 L171.18,108.99 L171.30,108.49 L171.43,107.99 L171.56,107.49 L171.69,107.00 L171.82,106.50 L171.95,106.00 L172.08,105.50 L172.21,105.00 L172.34,104.51 L172.47,104.01 L172.60,103.51 L172.73,103.01 L172.86,102.52 L172.99,102.02 L173.12,101.52 L173.26,101.02 L173.39,100.53 L173.52,100.03 L173.65,99.53 L173.78,99.04 L173.92,98.54 L174.05,98.04 L174.18,97.54 L174.32,97.05 L174.45,96.55 L174.59,96.05 L174.72,95.56 L174.86,95.06 L174.99,94.56 L175.13,94.06 L175.27,93.57 L175.40,93.07 L175.54,92.57 L175.68,92.08 L175.82,91.58 L175.96,91.08 L176.10,90.58 L176.24,90.09 L176.38,89.59 L176.52,89.09 L176.67,88.59 L176.81,88.09 L176.96,87.60 L177.10,87.10 L177.25,86.60 L177.40,86.10 L177.55,85.61 L177.70,85.11 L177.86,84.62 L178.01,84.12 L178.17,83.63 L178.33,83.13 L178.50,82.64 L178.66,82.15 L178.83,81.66 L179.00,81.17 L179.18,80.68 L179.36,80.19 L179.54,79.70 L179.73,79.22 L179.92,78.73 L180.11,78.25 L180.31,77.77 L180.51,77.29 L180.72,76.81 L180.93,76.34 L181.14,75.86 L181.36,75.39 L181.59,74.92 L181.82,74.45 L182.06,73.98 L182.30,73.52 L182.54,73.05 L182.80,72.59 L183.06,72.14 L183.32,71.68 L183.59,71.23 L183.87,70.78 L184.15,70.33 L184.44,69.88 L184.74,69.44 L185.04,69.00 L185.36,68.56 L185.67,68.13 L186.00,67.70 L186.33,67.27 L186.68,66.85 L187.03,66.45 L187.38,66.07 L187.75,65.71 L188.13,65.39 L188.52,65.10 L188.91,64.85 L189.32,64.64 L189.74,64.49 L190.17,64.39 L190.61,64.35 L191.06,64.37 L191.52,64.46 L191.99,64.60 L192.47,64.79 L192.94,65.03 L193.42,65.30 L193.89,65.61 L194.35,65.95 L194.81,66.32 L195.26,66.70 L195.69,67.10 L196.11,67.51 L196.51,67.93 L196.90,68.35 L197.26,68.77 L197.61,69.19 L197.94,69.61 L198.26,70.04 L198.57,70.47 L198.86,70.90 L199.14,71.33 L199.41,71.77 L199.67,72.20 L199.92,72.64 L200.17,73.09 L200.40,73.53 L200.64,73.98 L200.86,74.43 L201.09,74.88 L201.31,75.33 L201.53,75.79 L201.75,76.25 L201.97,76.71 L202.19,77.18 L202.40,77.64 L202.62,78.11 L202.83,78.58 L203.04,79.05 L203.25,79.52 L203.46,80.00 L203.67,80.47 L203.88,80.95 L204.09,81.43 L204.29,81.91 L204.50,82.39 L204.70,82.87 L204.90,83.35 L205.10,83.83 L205.29,84.32 L205.49,84.80 L205.69,85.28 L205.88,85.77 L206.07,86.25 L206.26,86.73 L206.45,87.22 L206.64,87.70 L206.82,88.19 L207.01,88.67 L207.19,89.16 L207.37,89.64 L207.55,90.13 L207.73,90.61 L207.91,91.09 L208.09,91.58 L208.26,92.07 L208.44,92.55 L208.61,93.04 L208.78,93.52 L208.95,94.01 L209.13,94.49 L209.29,94.98 L209.46,95.47 L209.63,95.95 L209.80,96.44 L209.96,96.93 L210.13,97.41 L210.29,97.90 L210.46,98.39 L210.62,98.88 L210.78,99.36 L210.95,99.85 L211.11,100.34 L211.27,100.83 L211.43,101.32 L211.59,101.81 L211.75,102.29 L211.91,102.78 L212.06,103.27 L212.22,103.76 L212.38,104.25 L212.54,104.74 L212.70,105.23 L212.85,105.72 L213.01,106.21 L213.17,106.71 L213.32,107.20 L213.48,107.69 L213.63,108.18 L213.79,108.67 L213.95,109.16 L214.10,109.66 L214.26,110.15 L214.42,110.64 L214.57,111.14 L214.73,111.63 L214.89,112.13 L215.04,112.62 L215.20,113.11 L215.36,113.61 L215.52,114.10 L215.68,114.60 L215.84,115.10 L215.99,115.59 L216.15,116.09 L216.31,116.59 L216.48,117.08 L216.64,117.58 L216.80,118.08 L216.96,118.58 L217.13,119.07 L217.29,119.57 L217.46,120.07 L217.63,120.56 L217.80,121.06 L217.98,121.55 L218.15,122.04 L218.34,122.53 L218.52,123.02 L218.71,123.51 L218.91,123.99 L219.10,124.48 L219.31,124.95 L219.52,125.43 L219.73,125.90 L219.95,126.37 L220.18,126.84 L220.42,127.30 L220.66,127.75 L220.91,128.21 L221.16,128.66 L221.43,129.10 L221.70,129.54 L221.98,129.97 L222.27,130.40 L222.57,130.82 L222.88,131.23 L223.20,131.64 L223.53,132.05 L223.87,132.44 L224.22,132.83 L224.58,133.22 L224.95,133.59 L225.34,133.96 L225.73,134.32 L226.14,134.67 L226.57,135.01 L227.00,135.35 L227.44,135.67 L227.90,135.98 L228.36,136.27 L228.82,136.54 L229.29,136.79 L229.77,137.01 L230.24,137.22 L230.72,137.39 L231.19,137.53 L231.67,137.64 L232.13,137.72 L232.60,137.76 L233.05,137.76 L233.50,137.72 L233.94,137.65 L234.37,137.54 L234.80,137.39 L235.22,137.22 L235.64,137.01 L236.04,136.78 L236.44,136.52 L236.84,136.23 L237.22,135.92 L237.60,135.58 L237.98,135.22 L238.35,134.85 L238.71,134.45 L239.06,134.04 L239.41,133.62 L239.76,133.18 L240.09,132.73 L240.43,132.26 L240.75,131.79 L241.07,131.31 L241.38,130.83 L241.69,130.34 L242.00,129.85 L242.29,129.35 L242.59,128.86 L242.87,128.37 L243.15,127.88 L243.43,127.40 L243.70,126.92 L243.97,126.45 L244.23,125.98 L244.49,125.52 L244.74,125.06 L244.99,124.60 L245.23,124.15 L245.47,123.70 L245.71,123.25 L245.94,122.80 L246.17,122.36 L246.40,121.91 L246.62,121.47 L246.85,121.03 L247.06,120.58 L247.28,120.14 L247.50,119.69 L247.71,119.25 L247.92,118.80 L248.13,118.35 L248.34,117.89 L248.54,117.44 L248.75,116.98 L248.95,116.52 L249.15,116.06 L249.35,115.60 L249.55,115.13 L249.75,114.67 L249.95,114.20 L250.15,113.73 L250.35,113.26 L250.55,112.79 L250.75,112.32 L250.95,111.85 L251.14,111.37 L251.34,110.90 L251.54,110.43 L251.74,109.95 L251.94,109.47 L252.14,109.00 L252.34,108.52 L252.54,108.04 L252.75,107.57 L252.95,107.09 L253.16,106.61 L253.36,106.13 L253.57,105.66 L253.78,105.18 L253.99,104.71 L254.20,104.23 L254.42,103.75 L254.64,103.28 L254.86,102.81 L255.08,102.33 L255.30,101.86 L255.53,101.39 L255.76,100.92 L255.99,100.45 L256.23,99.99 L256.46,99.52 L256.70,99.06 L256.95,98.60 L257.20,98.14 L257.45,97.68 L257.70,97.22 L257.96,96.77 L258.22,96.31 L258.49,95.86 L258.76,95.41 L259.03,94.97 L259.31,94.52 L259.59,94.08 L259.88,93.64 L260.17,93.21 L260.47,92.78 L260.77,92.35 L261.08,91.92 L261.39,91.49 L261.70,91.07 L262.02,90.66 L262.35,90.24 L262.68,89.83 L263.02,89.42 L263.37,89.02 L263.72,88.62 L264.07,88.22 L264.43,87.83 L264.80,87.44 L265.18,87.06 L265.56,86.68 L265.94,86.31 L266.34,85.95 L266.74,85.61 L267.14,85.27 L267.55,84.96 L267.97,84.66 L268.40,84.39 L268.83,84.14 L269.26,83.91 L269.70,83.71 L270.15,83.54 L270.61,83.40 L271.07,83.30 L271.53,83.23 L272.00,83.20 L272.48,83.21 L272.96,83.26 L273.45,83.34 L273.94,83.45 L274.43,83.60 L274.91,83.78 L275.40,83.98 L275.89,84.21 L276.37,84.46 L276.85,84.74 L277.32,85.03 L277.79,85.34 L278.24,85.67 L278.69,86.00 L279.13,86.35 L279.56,86.71 L279.97,87.08 L280.38,87.45 L280.77,87.83 L281.15,88.21 L281.52,88.60 L281.89,88.99 L282.24,89.39 L282.59,89.79 L282.93,90.20 L283.26,90.61 L283.58,91.02 L283.90,91.43 L284.22,91.85 L284.53,92.27 L284.83,92.69 L285.14,93.11 L285.44,93.53 L285.74,93.95 L286.03,94.37 L286.32,94.79 L286.61,95.22 L286.90,95.64 L287.19,96.06 L287.48,96.49 L287.76,96.91 L288.04,97.33 L288.32,97.76 L288.60,98.18 L288.88,98.61 L289.16,99.03 L289.43,99.46 L289.71,99.89 L289.98,100.31 L290.26,100.74 L290.53,101.16 L290.81,101.59 L291.08,102.02 L291.35,102.44 L291.63,102.87 L291.90,103.30 L292.18,103.72 L292.45,104.15 L292.73,104.58 L293.01,105.00 L293.29,105.43 L293.56,105.86 L293.85,106.28 L294.13,106.71 L294.41,107.13 L294.70,107.56 L294.98,107.99 L295.27,108.41 L295.56,108.84 L295.86,109.26 L296.15,109.69 L296.45,110.11 L296.75,110.53 L297.05,110.96 L297.36,111.38 L297.67,111.80 L297.98,112.23 L298.30,112.65 L298.62,113.07 L298.94,113.49 L299.27,113.91 L299.60,114.33 L299.93,114.75 L300.27,115.17 L300.61,115.59 L300.96,116.01 L301.31,116.43 L301.66,116.84 L302.02,117.25 L302.39,117.65 L302.76,118.05 L303.13,118.44 L303.51,118.82 L303.89,119.19 L304.28,119.55 L304.67,119.91 L305.07,120.25 L305.47,120.58 L305.88,120.89 L306.30,121.19 L306.71,121.48 L307.14,121.75 L307.57,122.00 L308.00,122.23 L308.44,122.44 L308.89,122.64 L309.34,122.81 L309.80,122.96 L310.26,123.08 L310.73,123.19 L311.21,123.27 L311.69,123.32 L312.17,123.34 L312.67,123.34 L313.17,123.31 L313.67,123.25 L314.18,123.17 L314.69,123.06 L315.20,122.93 L315.71,122.77 L316.23,122.60 L316.74,122.41 L317.25,122.20 L317.75,121.97 L318.25,121.73 L318.75,121.47 L319.24,121.20 L319.72,120.92 L320.19,120.63 L320.65,120.33 L321.10,120.03 L321.54,119.71 L321.97,119.39 L322.39,119.07 L322.80,118.73 L323.21,118.39 L323.60,118.05 L323.99,117.70 L324.36,117.34 L324.74,116.98 L325.10,116.61 L325.46,116.24 L325.81,115.86 L326.15,115.48 L326.49,115.09 L326.82,114.70 L327.15,114.31 L327.48,113.92 L327.80,113.52 L328.11,113.11 L328.43,112.71 L328.74,112.30 L329.04,111.90 L329.35,111.49 L329.65,111.07 L329.95,110.66 L330.25,110.25 L330.55,109.83 L330.85,109.42 L331.14,109.00 L331.44,108.58 L331.74,108.17 L332.04,107.75 L332.34,107.34 L332.64,106.93 L332.94,106.51 L333.25,106.10 L333.56,105.69 L333.87,105.29 L334.18,104.88 L334.50,104.48 L334.82,104.08 L335.15,103.68 L335.48,103.29 L335.81,102.90 L336.16,102.51 L336.50,102.13 L336.86,101.75 L337.22,101.38 L337.58,101.01 L337.96,100.64 L338.34,100.28 L338.73,99.93 L339.13,99.58 L339.53,99.24 L339.95,98.91 L340.37,98.58 L340.80,98.25 L341.24,97.94 L341.69,97.63 L342.14,97.33 L342.60,97.04 L343.07,96.76 L343.54,96.48 L344.01,96.22 L344.49,95.96 L344.98,95.72 L345.46,95.48 L345.96,95.25 L346.45,95.04 L346.95,94.83 L347.45,94.64 L347.95,94.46 L348.45,94.29 L348.96,94.13 L349.46,93.99 L349.97,93.86 L350.47,93.74 L350.98,93.63 L351.48,93.54 L351.98,93.47 L352.48,93.40 L352.98,93.36 L353.48,93.32 L353.97,93.31 L354.46,93.30 L354.95,93.32 L355.43,93.35 L355.91,93.40 L356.38,93.46 L356.85,93.54 L357.31,93.64 L357.77,93.75 L358.23,93.88 L358.68,94.02 L359.13,94.18 L359.57,94.34 L360.01,94.53 L360.45,94.72 L360.89,94.93 L361.32,95.15 L361.75,95.38 L362.17,95.62 L362.59,95.87 L363.02,96.13 L363.43,96.41 L363.85,96.69 L364.26,96.98 L364.68,97.28 L365.09,97.58 L365.50,97.89 L365.91,98.22 L366.31,98.54 L366.72,98.88 L367.12,99.21 L367.53,99.56 L367.93,99.91 L368.33,100.26 L368.74,100.62 L369.14,100.98 L369.54,101.34 L369.95,101.71 L370.35,102.07 L370.75,102.44 L371.16,102.82 L371.56,103.19 L371.97,103.56 L372.37,103.93 L372.78,104.30 L373.19,104.67 L373.60,105.04 L374.02,105.41 L374.43,105.77 L374.85,106.14 L375.26,106.50 L375.68,106.85 L376.11,107.21 L376.53,107.56 L376.96,107.90 L377.38,108.24 L377.81,108.58 L378.24,108.91 L378.67,109.24 L379.11,109.57 L379.54,109.88 L379.98,110.20 L380.42,110.50 L380.86,110.80 L381.30,111.10 L381.74,111.39 L382.19,111.67 L382.64,111.94 L383.08,112.21 L383.53,112.47 L383.98,112.72 L384.44,112.97 L384.89,113.20 L385.35,113.43 L385.80,113.65 L386.26,113.86 L386.72,114.06 L387.18,114.25 L387.65,114.44 L388.11,114.61 L388.57,114.77 L389.04,114.92 L389.51,115.07 L389.98,115.20 L390.45,115.32 L390.92,115.42 L391.39,115.52 L391.87,115.61 L392.34,115.68 L392.82,115.74 L393.30,115.79 L393.78,115.82 L394.26,115.84 L394.74,115.85 L395.22,115.85 L395.71,115.83 L396.19,115.80 L396.68,115.76 L397.16,115.71 L397.65,115.64 L398.13,115.57 L398.62,115.48 L399.11,115.38 L399.60,115.27 L400.09,115.15 L400.58,115.02 L401.07,114.88 L401.55,114.73 L402.04,114.58 L402.53,114.41 L403.02,114.24 L403.51,114.05 L404.00,113.86 L404.48,113.67 L404.97,113.46 L405.46,113.25 L405.94,113.03 L406.42,112.80 L406.91,112.57 L407.39,112.34 L407.87,112.09 L408.35,111.84 L408.83,111.59 L409.31,111.33 L409.78,111.07 L410.26,110.80 L410.73,110.53 L411.20,110.26 L411.67,109.98 L412.14,109.70 L412.60,109.42 L413.06,109.14 L413.53,108.85 L413.98,108.56 L414.44,108.27 L414.90,107.98 L415.35,107.69 L415.80,107.40 L416.24,107.10 L416.69,106.81 L417.13,106.52 L417.57,106.23 L418.02,105.94 L418.45,105.65 L418.89,105.36 L419.33,105.08 L419.77,104.80 L420.21,104.52 L420.64,104.24 L421.08,103.97 L421.52,103.71 L421.95,103.44 L422.39,103.19 L422.83,102.94 L423.27,102.69 L423.71,102.45 L424.15,102.21 L424.60,101.99 L425.04,101.77 L425.49,101.55 L425.94,101.35 L426.39,101.15 L426.85,100.96 L427.31,100.78 L427.77,100.61 L428.23,100.45 L428.70,100.30 L429.17,100.16 L429.65,100.03 L430.12,99.91 L430.61,99.80 L431.09,99.70 L431.58,99.62 L432.08,99.54 L432.58,99.48 L433.08,99.43 L433.58,99.38 L434.09,99.35 L434.60,99.33 L435.11,99.31 L435.62,99.31 L436.13,99.32 L436.65,99.33 L437.17,99.36 L437.69,99.40 L438.21,99.44 L438.73,99.49 L439.25,99.55 L439.78,99.62 L440.30,99.70 L440.82,99.79 L441.34,99.88 L441.87,99.99 L442.39,100.10 L442.91,100.21 L443.43,100.34 L443.95,100.47 L444.47,100.61 L444.98,100.76 L445.50,100.91 L446.01,101.07 L446.52,101.24 L447.03,101.41 L447.53,101.59 L448.03,101.78 L448.53,101.97 L449.03,102.17 L449.52,102.37 L450.01,102.58 L450.50,102.80 L450.98,103.01 L451.46,103.24 L451.94,103.46 L452.41,103.69 L452.88,103.93 L453.35,104.16 L453.82,104.40 L454.29,104.64 L454.75,104.89 L455.21,105.13 L455.67,105.38 L456.13,105.62 L456.59,105.87 L457.05,106.12 L457.50,106.37 L457.96,106.61 L458.41,106.86 L458.87,107.10 L459.32,107.34 L459.78,107.58 L460.24,107.82 L460.69,108.06 L461.15,108.29 L461.60,108.52 L462.06,108.74 L462.52,108.96 L462.98,109.18 L463.44,109.39 L463.91,109.59 L464.37,109.79 L464.84,109.98 L465.31,110.17 L465.78,110.35 L466.25,110.53 L466.73,110.69 L467.21,110.85 L467.69,111.00 L468.17,111.14 L468.66,111.28 L469.15,111.40 L469.65,111.51 L470.15,111.62 L470.65,111.72 L471.15,111.81 L471.66,111.89 L472.16,111.96 L472.67,112.03 L473.18,112.08 L473.70,112.13 L474.21,112.17 L474.73,112.20 L475.25,112.22 L475.76,112.24 L476.28,112.25 L476.80,112.25 L477.32,112.24 L477.85,112.22 L478.37,112.20 L478.89,112.17 L479.41,112.14 L479.93,112.09 L480.45,112.04 L480.97,111.98 L481.49,111.92 L482.01,111.84 L482.53,111.76 L483.04,111.68 L483.56,111.59 L484.07,111.49 L484.58,111.38 L485.09,111.27 L485.60,111.15 L486.10,111.03 L486.60,110.90 L487.10,110.76 L487.60,110.62 L488.10,110.47 L488.59,110.32 L489.08,110.16 L489.57,110.00 L490.06,109.83 L490.54,109.66 L491.03,109.48 L491.51,109.31 L491.99,109.12 L492.47,108.94 L492.95,108.75 L493.43,108.56 L493.91,108.37 L494.39,108.18 L494.86,107.98 L495.34,107.78 L495.81,107.58 L496.29,107.38 L496.76,107.19 L497.24,106.98 L497.71,106.78 L498.19,106.58 L498.66,106.39 L499.14,106.19 L499.62,105.99 L500.09,105.79 L500.57,105.60 L501.05,105.40 L501.53,105.21 L502.01,105.02 L502.50,104.84 L502.98,104.66 L503.47,104.48 L503.95,104.30 L504.44,104.13 L504.93,103.96 L505.43,103.79 L505.92,103.63 L506.42,103.48 L506.92,103.33 L507.42,103.18 L507.92,103.04 L508.42,102.90 L508.93,102.77 L509.44,102.65 L509.94,102.53 L510.45,102.41 L510.97,102.30 L511.48,102.20 L511.99,102.10 L512.50,102.01 L513.02,101.92 L513.53,101.84 L514.05,101.76 L514.57,101.69 L515.09,101.63 L515.60,101.57 L516.12,101.52 L516.64,101.48 L517.16,101.44 L517.67,101.41 L518.19,101.38 L518.71,101.37 L519.23,101.36 L519.75,101.35 L520.26,101.36 L520.78,101.37 L521.29,101.38 L521.81,101.41 L522.32,101.44 L522.83,101.48 L523.35,101.53 L523.86,101.58 L524.37,101.64 L524.87,101.71 L525.38,101.79 L525.89,101.88 L526.39,101.97 L526.89,102.08 L527.39,102.19 L527.89,102.31 L528.39,102.43 L528.88,102.57 L529.37,102.71 L529.86,102.87 L530.35,103.03 L530.84,103.20 L531.32,103.38 L531.80,103.57 L532.28,103.77 L532.75,103.98 L533.22,104.20 L533.69,104.42 L534.16,104.66 L534.62,104.90 L535.08,105.16 L535.53,105.42 L535.99,105.70 L536.44,105.98" stroke="#7E2F8E" stroke-width="1.2"/>
</g>
<g font-family="Liberation Sans, Arial, Helvetica, sans-serif" fill="#262626" stroke="#262626" stroke-width="0.25">
<g font-size="14px" text-anchor="middle">
<text x="64.50" y="407.2">0</text>
<text x="143.15" y="407.2">5</text>
<text x="221.80" y="407.2">10</text>
<text x="300.45" y="407.2">15</text>
<text x="379.10" y="407.2">20</text>
<text x="457.75" y="407.2">25</text>
<text x="536.40" y="407.2">30</text>
</g>
<g font-size="14px" text-anchor="end">
<text x="57.6" y="19.80">0.4</text>
<text x="57.6" y="66.39">0.2</text>
<text x="57.6" y="112.97">0</text>
<text x="57.6" y="159.56">-0.2</text>
<text x="57.6" y="206.15">-0.4</text>
<text x="57.6" y="252.74">-0.6</text>
<text x="57.6" y="299.33">-0.8</text>
<text x="57.6" y="345.91">-1</text>
<text x="57.6" y="392.50">-1.2</text>
</g>
<text x="300.5" y="428" font-size="15.4px" text-anchor="middle">Time (s)</text>
<text transform="translate(24.8,200) rotate(-90)" font-size="15.4px" text-anchor="middle" textLength="114.8" lengthAdjust="spacing">Lateral Error (m)</text>
</g>
<rect x="379.5" y="249.5" width="134.2" height="118" fill="#fff" stroke="#262626" stroke-width="1"/>
<line x1="392" y1="266.3" x2="435.6" y2="266.3" stroke="#0072BD" stroke-width="1.15"/>
<text x="439.8" y="271.8" font-family="Liberation Sans, Arial, Helvetica, sans-serif" font-size="12.6px" fill="#262626" stroke="#262626" stroke-width="0.25" textLength="46.6" lengthAdjust="spacing">IT2_PID</text>
<line x1="392" y1="294.4" x2="435.6" y2="294.4" stroke="#D95319" stroke-width="0.85"/>
<text x="439.8" y="299.9" font-family="Liberation Sans, Arial, Helvetica, sans-serif" font-size="12.6px" fill="#262626" stroke="#262626" stroke-width="0.25" textLength="42.9" lengthAdjust="spacing">T1_PID</text>
<line x1="392" y1="322.5" x2="435.6" y2="322.5" stroke="#EDB120" stroke-width="1.15"/>
<text x="439.8" y="328.0" font-family="Liberation Sans, Arial, Helvetica, sans-serif" font-size="12.6px" fill="#262626" stroke="#262626" stroke-width="0.25" textLength="61.5" lengthAdjust="spacing">PID_Mean</text>
<line x1="392" y1="350.6" x2="435.6" y2="350.6" stroke="#808080" stroke-width="1.15"/>
<text x="439.8" y="356.1" font-family="Liberation Sans, Arial, Helvetica, sans-serif" font-size="12.6px" fill="#262626" stroke="#262626" stroke-width="0.25" textLength="45.8" lengthAdjust="spacing">PID_ZN</text>
</svg></body></html>
